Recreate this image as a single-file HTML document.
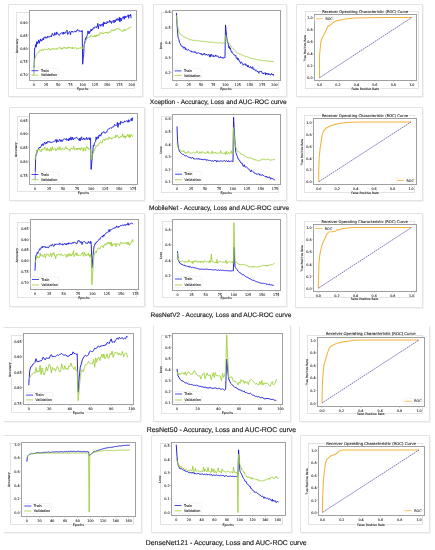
<!DOCTYPE html>
<html><head><meta charset="utf-8"><title>Model curves</title>
<style>html,body{margin:0;padding:0;background:#fff;} svg{display:block;}</style></head>
<body><svg width="435" height="550" viewBox="0 0 435 550" text-rendering="geometricPrecision" font-family="DejaVu Sans, Liberation Sans, sans-serif" fill="#383838"><g stroke="#383838" stroke-width="0.14">
<rect width="435" height="550" fill="#fff" stroke="none"/>
<path d="M8.5 96.5V4.5" fill="none" stroke="#e3e3e3" stroke-width="1"/>
<path d="M8.5 4.5H142.5" fill="none" stroke="#e3e3e3" stroke-width="1"/>
<path d="M142.5 4.5V96.5H8.5" fill="none" stroke="#e3e3e3" stroke-width="1"/>
<path d="M143.5 5.5V97.5H9.5" fill="none" stroke="#f3f3f3" stroke-width="1"/>
<rect x="16.5" y="12.5" width="118.0" height="76.0" fill="none" stroke="#dcdcdc" stroke-width="0.8"/>
<clipPath id="c1"><rect x="29" y="10.5" width="107.5" height="69.8"/></clipPath>
<rect x="29" y="10.5" width="107.5" height="69.8" fill="#fff" stroke="none"/>
<g clip-path="url(#c1)" fill="none" stroke-linejoin="round">
<polyline points="33.75,74.80 34.24,62.66 34.73,47.83 35.22,47.56 35.71,44.40 36.20,47.18 36.69,41.57 37.17,43.97 37.66,42.19 38.15,42.34 38.64,39.83 39.13,43.41 39.62,41.13 40.11,40.94 40.60,38.92 41.09,41.26 41.58,39.92 42.07,40.48 42.56,39.15 43.05,38.27 43.53,39.99 44.02,37.15 44.51,37.20 45.00,37.43 45.49,36.73 45.98,38.34 46.47,37.46 46.96,38.17 47.45,37.16 47.94,36.00 48.43,37.26 48.92,36.76 49.41,36.94 49.90,36.96 50.38,36.60 50.87,35.68 51.36,36.80 51.85,35.07 52.34,33.26 52.83,34.16 53.32,35.09 53.81,35.74 54.30,35.42 54.79,32.54 55.28,34.41 55.77,35.17 56.26,34.17 56.74,31.91 57.23,34.17 57.72,33.55 58.21,33.88 58.70,34.60 59.19,35.48 59.68,34.52 60.17,34.32 60.66,33.35 61.15,32.96 61.64,32.75 62.13,33.40 62.62,32.61 63.11,34.41 63.59,31.98 64.08,32.74 64.57,33.58 65.06,32.57 65.55,33.13 66.04,31.62 66.53,31.07 67.02,30.20 67.51,34.30 68.00,34.30 68.49,33.15 68.98,32.32 69.47,31.42 69.95,32.01 70.44,34.67 70.93,32.62 71.42,31.24 71.91,31.88 72.40,31.20 72.89,32.28 73.38,32.20 73.87,31.63 74.36,31.25 74.85,31.38 75.34,31.36 75.83,32.16 76.31,30.82 76.80,31.00 77.29,29.71 77.78,29.51 78.27,30.57 78.76,31.11 79.25,31.52 79.74,30.39 80.23,30.89 80.72,31.49 81.21,31.14 81.70,31.91 82.19,30.38 82.67,64.24 83.16,58.14 83.65,54.87 84.14,44.79 84.63,43.10 85.12,40.70 85.61,37.84 86.10,38.58 86.59,37.07 87.08,35.61 87.57,33.42 88.06,30.91 88.55,33.05 89.04,33.91 89.52,31.50 90.01,32.33 90.50,31.18 90.99,29.31 91.48,30.99 91.97,29.56 92.46,30.05 92.95,28.66 93.44,27.63 93.93,28.53 94.42,27.22 94.91,26.55 95.40,26.97 95.88,27.56 96.37,27.78 96.86,26.25 97.35,26.33 97.84,23.37 98.33,28.75 98.82,25.73 99.31,25.38 99.80,24.18 100.29,24.97 100.78,26.32 101.27,25.13 101.76,24.29 102.25,25.08 102.73,23.60 103.22,26.46 103.71,22.07 104.20,22.16 104.69,24.05 105.18,22.74 105.67,23.18 106.16,23.99 106.65,22.72 107.14,21.45 107.63,22.84 108.12,22.70 108.61,22.21 109.09,21.48 109.58,20.36 110.07,22.44 110.56,20.97 111.05,21.17 111.54,23.45 112.03,21.64 112.52,21.16 113.01,20.91 113.50,20.35 113.99,22.96 114.48,20.40 114.97,21.10 115.45,21.85 115.94,19.42 116.43,19.04 116.92,20.52 117.41,18.64 117.90,19.92 118.39,19.26 118.88,20.48 119.37,17.22 119.86,22.01 120.35,18.89 120.84,17.84 121.33,20.89 121.81,18.61 122.30,18.35 122.79,17.18 123.28,16.55 123.77,18.35 124.26,19.36 124.75,16.03 125.24,16.07 125.73,17.85 126.22,16.74 126.71,16.53 127.20,16.14 127.69,16.39 128.18,14.82 128.66,18.30 129.15,14.90 129.64,15.49 130.13,16.02 130.62,14.23 131.11,18.15" stroke="#1c1cdc" stroke-width="0.95"/>
<polyline points="33.75,75.76 34.24,67.41 34.73,58.54 35.22,58.16 35.71,55.95 36.20,54.89 36.69,54.09 37.17,53.70 37.66,52.74 38.15,52.46 38.64,52.55 39.13,51.07 39.62,50.72 40.11,49.95 40.60,50.46 41.09,50.35 41.58,50.08 42.07,50.56 42.56,49.21 43.05,50.25 43.53,50.25 44.02,49.71 44.51,48.79 45.00,49.40 45.49,50.01 45.98,49.81 46.47,49.08 46.96,49.45 47.45,49.72 47.94,49.40 48.43,48.84 48.92,48.14 49.41,49.75 49.90,49.37 50.38,49.40 50.87,50.18 51.36,49.34 51.85,49.34 52.34,48.17 52.83,48.76 53.32,49.47 53.81,48.23 54.30,48.69 54.79,49.39 55.28,48.78 55.77,48.75 56.26,48.88 56.74,48.39 57.23,49.55 57.72,48.51 58.21,47.83 58.70,47.89 59.19,47.74 59.68,47.71 60.17,47.50 60.66,48.83 61.15,47.79 61.64,49.17 62.13,48.50 62.62,49.16 63.11,47.61 63.59,47.44 64.08,48.21 64.57,47.17 65.06,48.42 65.55,47.97 66.04,47.95 66.53,48.56 67.02,47.77 67.51,46.99 68.00,48.52 68.49,47.53 68.98,48.07 69.47,47.08 69.95,47.74 70.44,47.64 70.93,47.66 71.42,47.86 71.91,48.71 72.40,47.27 72.89,48.70 73.38,47.87 73.87,47.67 74.36,48.42 74.85,47.92 75.34,47.39 75.83,48.00 76.31,48.45 76.80,49.50 77.29,48.49 77.78,48.30 78.27,48.26 78.76,48.49 79.25,47.80 79.74,48.29 80.23,48.05 80.72,47.64 81.21,48.43 81.70,48.15 82.19,46.88 82.67,49.00 83.16,47.97 83.65,47.27 84.14,44.75 84.63,43.83 85.12,43.46 85.61,41.90 86.10,40.15 86.59,39.27 87.08,39.08 87.57,37.75 88.06,37.83 88.55,37.22 89.04,36.95 89.52,37.47 90.01,36.29 90.50,36.51 90.99,34.96 91.48,35.53 91.97,36.01 92.46,36.69 92.95,36.20 93.44,36.24 93.93,37.11 94.42,35.26 94.91,36.39 95.40,35.38 95.88,36.69 96.37,34.85 96.86,36.27 97.35,35.59 97.84,34.63 98.33,34.63 98.82,35.72 99.31,34.73 99.80,33.34 100.29,32.35 100.78,32.74 101.27,33.38 101.76,32.73 102.25,33.80 102.73,32.82 103.22,33.84 103.71,33.04 104.20,33.07 104.69,32.51 105.18,33.10 105.67,32.20 106.16,32.96 106.65,32.34 107.14,32.33 107.63,33.79 108.12,32.52 108.61,32.32 109.09,32.59 109.58,31.84 110.07,32.57 110.56,31.23 111.05,31.06 111.54,30.98 112.03,29.54 112.52,30.55 113.01,30.51 113.50,30.77 113.99,29.99 114.48,30.57 114.97,29.17 115.45,30.14 115.94,29.55 116.43,28.38 116.92,28.72 117.41,29.11 117.90,28.34 118.39,29.02 118.88,28.41 119.37,29.21 119.86,30.10 120.35,29.70 120.84,29.78 121.33,30.87 121.81,31.20 122.30,30.78 122.79,31.74 123.28,30.64 123.77,30.81 124.26,28.96 124.75,30.34 125.24,30.80 125.73,29.33 126.22,29.83 126.71,29.61 127.20,29.21 127.69,28.89 128.18,28.90 128.66,27.83 129.15,27.76 129.64,28.02 130.13,27.52 130.62,27.65 131.11,26.63" stroke="#9acd32" stroke-width="0.85"/>
</g>
<rect x="29.5" y="10.5" width="107.0" height="70.0" fill="none" stroke="#a0a0a0" stroke-width="1"/>
<line x1="33.75" y1="80.5" x2="33.75" y2="81.9" stroke="#a0a0a0" stroke-width="0.5"/>
<text x="33.75" y="85.80" font-size="3.3" text-anchor="middle">0</text>
<line x1="45.98" y1="80.5" x2="45.98" y2="81.9" stroke="#a0a0a0" stroke-width="0.5"/>
<text x="45.98" y="85.80" font-size="3.3" text-anchor="middle">25</text>
<line x1="58.21" y1="80.5" x2="58.21" y2="81.9" stroke="#a0a0a0" stroke-width="0.5"/>
<text x="58.21" y="85.80" font-size="3.3" text-anchor="middle">50</text>
<line x1="70.44" y1="80.5" x2="70.44" y2="81.9" stroke="#a0a0a0" stroke-width="0.5"/>
<text x="70.44" y="85.80" font-size="3.3" text-anchor="middle">75</text>
<line x1="82.67" y1="80.5" x2="82.67" y2="81.9" stroke="#a0a0a0" stroke-width="0.5"/>
<text x="82.67" y="85.80" font-size="3.3" text-anchor="middle">100</text>
<line x1="94.91" y1="80.5" x2="94.91" y2="81.9" stroke="#a0a0a0" stroke-width="0.5"/>
<text x="94.91" y="85.80" font-size="3.3" text-anchor="middle">125</text>
<line x1="107.14" y1="80.5" x2="107.14" y2="81.9" stroke="#a0a0a0" stroke-width="0.5"/>
<text x="107.14" y="85.80" font-size="3.3" text-anchor="middle">150</text>
<line x1="119.37" y1="80.5" x2="119.37" y2="81.9" stroke="#a0a0a0" stroke-width="0.5"/>
<text x="119.37" y="85.80" font-size="3.3" text-anchor="middle">175</text>
<line x1="131.60" y1="80.5" x2="131.60" y2="81.9" stroke="#a0a0a0" stroke-width="0.5"/>
<text x="131.60" y="85.80" font-size="3.3" text-anchor="middle">200</text>
<line x1="28.1" y1="74.10" x2="29.5" y2="74.10" stroke="#a0a0a0" stroke-width="0.5"/>
<text x="27.50" y="75.75" font-size="3.3" text-anchor="end">0.70</text>
<line x1="28.1" y1="61.17" x2="29.5" y2="61.17" stroke="#a0a0a0" stroke-width="0.5"/>
<text x="27.50" y="62.82" font-size="3.3" text-anchor="end">0.75</text>
<line x1="28.1" y1="48.25" x2="29.5" y2="48.25" stroke="#a0a0a0" stroke-width="0.5"/>
<text x="27.50" y="49.90" font-size="3.3" text-anchor="end">0.80</text>
<line x1="28.1" y1="35.33" x2="29.5" y2="35.33" stroke="#a0a0a0" stroke-width="0.5"/>
<text x="27.50" y="36.98" font-size="3.3" text-anchor="end">0.85</text>
<line x1="28.1" y1="22.40" x2="29.5" y2="22.40" stroke="#a0a0a0" stroke-width="0.5"/>
<text x="27.50" y="24.05" font-size="3.3" text-anchor="end">0.90</text>
<rect x="76.62" y="87.00" width="12.27" height="3.20" fill="#fff" stroke="none"/>
<text x="82.75" y="89.50" font-size="3.2" text-anchor="middle">Epochs</text>
<rect x="15.50" y="38.30" width="3.20" height="15.41" fill="#fff" stroke="none"/>
<text x="18.00" y="46.00" font-size="3.2" text-anchor="middle" transform="rotate(-90 18.00 46.00)">Accuracy</text>
<rect x="30.20" y="68.10" width="28.00" height="9.70" rx="0.6" fill="#fff" fill-opacity="0.45" stroke="#e9e9e9" stroke-width="0.5"/>
<line x1="31.4" y1="70.7" x2="38.4" y2="70.7" stroke="#1c1cdc" stroke-width="0.8"/>
<text x="40.9" y="71.89" font-size="3.3">Train</text>
<line x1="31.4" y1="75.2" x2="38.4" y2="75.2" stroke="#9acd32" stroke-width="0.8"/>
<text x="40.9" y="76.39" font-size="3.3">Validation</text>
<path d="M153.5 96.5V4.5" fill="none" stroke="#e3e3e3" stroke-width="1"/>
<path d="M153.5 4.5H286.5" fill="none" stroke="#e3e3e3" stroke-width="1"/>
<path d="M286.5 4.5V96.5H153.5" fill="none" stroke="#e3e3e3" stroke-width="1"/>
<path d="M287.5 5.5V97.5H154.5" fill="none" stroke="#f3f3f3" stroke-width="1"/>
<rect x="161.5" y="12.5" width="117.0" height="76.0" fill="none" stroke="#dcdcdc" stroke-width="0.8"/>
<clipPath id="c2"><rect x="172" y="10.5" width="108" height="69.5"/></clipPath>
<rect x="172" y="10.5" width="108" height="69.5" fill="#fff" stroke="none"/>
<g clip-path="url(#c2)" fill="none" stroke-linejoin="round">
<polyline points="176.50,12.97 176.99,24.51 177.48,30.33 177.97,36.65 178.46,38.47 178.95,39.52 179.44,42.33 179.93,43.21 180.42,43.78 180.91,45.24 181.40,46.24 181.89,45.98 182.38,46.50 182.87,46.26 183.36,48.22 183.85,47.97 184.34,47.12 184.83,47.00 185.32,49.55 185.81,48.32 186.30,49.67 186.79,49.83 187.28,50.09 187.77,50.02 188.26,49.30 188.75,49.73 189.24,50.42 189.73,50.96 190.22,50.95 190.71,51.27 191.20,50.88 191.69,52.00 192.18,51.73 192.67,51.95 193.16,52.07 193.65,52.01 194.14,52.20 194.63,51.58 195.12,52.70 195.61,51.73 196.10,53.16 196.59,53.43 197.08,53.19 197.57,53.15 198.06,53.30 198.55,52.70 199.04,52.89 199.53,53.43 200.02,54.09 200.51,54.02 201.00,53.08 201.49,53.99 201.98,55.13 202.47,54.80 202.96,54.81 203.45,53.73 203.94,54.67 204.43,53.09 204.92,54.24 205.41,54.65 205.90,55.08 206.39,54.16 206.88,55.04 207.37,55.48 207.86,54.58 208.35,55.00 208.84,54.25 209.33,55.16 209.82,57.11 210.31,54.68 210.80,56.61 211.29,54.38 211.78,54.29 212.27,55.93 212.76,56.54 213.25,56.80 213.74,55.36 214.23,56.20 214.72,56.57 215.21,56.44 215.70,54.95 216.19,56.24 216.68,56.07 217.17,56.14 217.66,56.07 218.15,56.14 218.64,57.44 219.13,57.20 219.62,57.66 220.11,57.72 220.60,56.55 221.09,57.77 221.58,57.57 222.07,58.08 222.56,58.11 223.05,57.24 223.54,58.12 224.03,58.18 224.52,57.55 225.01,57.58 225.50,24.90 225.99,29.50 226.48,35.28 226.97,38.67 227.46,42.42 227.95,42.38 228.44,44.76 228.93,47.83 229.42,46.50 229.91,49.13 230.40,47.87 230.89,50.48 231.38,52.25 231.87,51.59 232.36,52.99 232.85,53.51 233.34,54.09 233.83,54.80 234.32,54.74 234.81,55.14 235.30,56.03 235.79,55.46 236.28,58.40 236.77,58.26 237.26,57.82 237.75,59.88 238.24,58.43 238.73,59.72 239.22,61.03 239.71,61.13 240.20,62.62 240.69,63.54 241.18,62.02 241.67,62.20 242.16,63.07 242.65,63.42 243.14,65.27 243.63,64.53 244.12,64.50 244.61,64.21 245.10,63.59 245.59,65.28 246.08,65.72 246.57,64.65 247.06,65.72 247.55,66.90 248.04,65.18 248.53,67.01 249.02,67.03 249.51,67.63 250.00,66.82 250.49,66.52 250.98,67.91 251.47,67.62 251.96,68.57 252.45,66.73 252.94,67.66 253.43,69.54 253.92,68.98 254.41,68.96 254.90,69.64 255.39,70.83 255.88,70.67 256.37,70.29 256.86,70.80 257.35,71.92 257.84,71.07 258.33,72.32 258.82,73.31 259.31,71.70 259.80,71.25 260.29,71.78 260.78,71.14 261.27,71.07 261.76,72.27 262.25,73.16 262.74,72.85 263.23,74.06 263.72,73.09 264.21,73.23 264.70,73.14 265.19,72.54 265.68,75.10 266.17,73.02 266.66,74.10 267.15,73.19 267.64,73.77 268.13,74.79 268.62,73.45 269.11,74.78 269.60,73.93 270.09,74.91 270.58,74.96 271.07,74.64 271.56,73.42 272.05,74.47 272.54,75.15 273.03,74.00 273.52,75.38 274.01,75.76" stroke="#1c1cdc" stroke-width="0.95"/>
<polyline points="176.50,15.36 176.99,21.11 177.48,25.66 177.97,27.58 178.46,29.81 178.95,31.65 179.44,32.44 179.93,33.59 180.42,33.84 180.91,34.72 181.40,35.29 181.89,35.54 182.38,35.74 182.87,36.23 183.36,36.56 183.85,37.13 184.34,37.07 184.83,37.45 185.32,37.60 185.81,38.14 186.30,37.70 186.79,38.18 187.28,38.48 187.77,38.18 188.26,38.78 188.75,39.24 189.24,39.22 189.73,39.78 190.22,39.31 190.71,39.78 191.20,40.01 191.69,39.72 192.18,40.33 192.67,39.97 193.16,40.55 193.65,40.34 194.14,40.52 194.63,40.07 195.12,40.08 195.61,40.56 196.10,40.40 196.59,40.67 197.08,40.60 197.57,40.92 198.06,41.17 198.55,41.25 199.04,40.88 199.53,40.57 200.02,41.01 200.51,41.23 201.00,40.81 201.49,41.20 201.98,41.28 202.47,41.31 202.96,41.44 203.45,41.54 203.94,41.81 204.43,41.48 204.92,41.64 205.41,41.44 205.90,41.79 206.39,42.14 206.88,41.83 207.37,41.52 207.86,41.98 208.35,42.13 208.84,42.23 209.33,42.25 209.82,42.15 210.31,42.37 210.80,41.89 211.29,42.29 211.78,42.26 212.27,42.04 212.76,42.08 213.25,42.46 213.74,42.40 214.23,42.37 214.72,42.60 215.21,42.96 215.70,42.52 216.19,42.52 216.68,42.66 217.17,42.96 217.66,42.85 218.15,42.97 218.64,42.94 219.13,42.66 219.62,42.65 220.11,42.86 220.60,42.92 221.09,42.93 221.58,43.10 222.07,43.14 222.56,43.30 223.05,43.21 223.54,42.79 224.03,43.10 224.52,43.37 225.01,43.43 225.50,35.43 225.99,37.03 226.48,39.12 226.97,40.77 227.46,41.58 227.95,41.70 228.44,42.47 228.93,43.11 229.42,43.97 229.91,44.64 230.40,45.59 230.89,45.91 231.38,46.97 231.87,47.42 232.36,47.88 232.85,48.44 233.34,48.74 233.83,49.37 234.32,49.86 234.81,50.37 235.30,50.69 235.79,51.43 236.28,51.88 236.77,52.31 237.26,53.06 237.75,53.42 238.24,53.49 238.73,53.60 239.22,53.90 239.71,54.19 240.20,54.12 240.69,54.51 241.18,54.67 241.67,54.84 242.16,55.05 242.65,55.30 243.14,55.36 243.63,55.75 244.12,55.85 244.61,56.02 245.10,56.26 245.59,56.31 246.08,56.48 246.57,56.66 247.06,56.86 247.55,56.95 248.04,56.99 248.53,57.25 249.02,57.93 249.51,57.58 250.00,58.12 250.49,58.29 250.98,58.17 251.47,58.47 251.96,58.23 252.45,58.45 252.94,58.75 253.43,58.97 253.92,58.85 254.41,58.86 254.90,59.11 255.39,59.01 255.88,59.29 256.37,59.38 256.86,59.63 257.35,59.63 257.84,59.78 258.33,60.07 258.82,59.62 259.31,60.02 259.80,60.07 260.29,60.00 260.78,60.23 261.27,60.30 261.76,60.36 262.25,60.63 262.74,60.39 263.23,60.61 263.72,60.77 264.21,60.62 264.70,60.73 265.19,60.94 265.68,60.84 266.17,60.90 266.66,60.90 267.15,60.94 267.64,60.94 268.13,61.21 268.62,61.11 269.11,61.26 269.60,61.13 270.09,61.40 270.58,61.54 271.07,61.37 271.56,61.05 272.05,61.26 272.54,61.43 273.03,61.18 273.52,61.55 274.01,61.59" stroke="#9acd32" stroke-width="0.85"/>
</g>
<rect x="172.5" y="10.5" width="108.0" height="70.0" fill="none" stroke="#a0a0a0" stroke-width="1"/>
<line x1="176.50" y1="80.5" x2="176.50" y2="81.9" stroke="#a0a0a0" stroke-width="0.5"/>
<text x="176.50" y="85.80" font-size="3.3" text-anchor="middle">0</text>
<line x1="188.75" y1="80.5" x2="188.75" y2="81.9" stroke="#a0a0a0" stroke-width="0.5"/>
<text x="188.75" y="85.80" font-size="3.3" text-anchor="middle">25</text>
<line x1="201.00" y1="80.5" x2="201.00" y2="81.9" stroke="#a0a0a0" stroke-width="0.5"/>
<text x="201.00" y="85.80" font-size="3.3" text-anchor="middle">50</text>
<line x1="213.25" y1="80.5" x2="213.25" y2="81.9" stroke="#a0a0a0" stroke-width="0.5"/>
<text x="213.25" y="85.80" font-size="3.3" text-anchor="middle">75</text>
<line x1="225.50" y1="80.5" x2="225.50" y2="81.9" stroke="#a0a0a0" stroke-width="0.5"/>
<text x="225.50" y="85.80" font-size="3.3" text-anchor="middle">100</text>
<line x1="237.75" y1="80.5" x2="237.75" y2="81.9" stroke="#a0a0a0" stroke-width="0.5"/>
<text x="237.75" y="85.80" font-size="3.3" text-anchor="middle">125</text>
<line x1="250.00" y1="80.5" x2="250.00" y2="81.9" stroke="#a0a0a0" stroke-width="0.5"/>
<text x="250.00" y="85.80" font-size="3.3" text-anchor="middle">150</text>
<line x1="262.25" y1="80.5" x2="262.25" y2="81.9" stroke="#a0a0a0" stroke-width="0.5"/>
<text x="262.25" y="85.80" font-size="3.3" text-anchor="middle">175</text>
<line x1="274.50" y1="80.5" x2="274.50" y2="81.9" stroke="#a0a0a0" stroke-width="0.5"/>
<text x="274.50" y="85.80" font-size="3.3" text-anchor="middle">200</text>
<line x1="171.1" y1="72.50" x2="172.5" y2="72.50" stroke="#a0a0a0" stroke-width="0.5"/>
<text x="170.50" y="74.15" font-size="3.3" text-anchor="end">0.2</text>
<line x1="171.1" y1="57.31" x2="172.5" y2="57.31" stroke="#a0a0a0" stroke-width="0.5"/>
<text x="170.50" y="58.96" font-size="3.3" text-anchor="end">0.3</text>
<line x1="171.1" y1="42.12" x2="172.5" y2="42.12" stroke="#a0a0a0" stroke-width="0.5"/>
<text x="170.50" y="43.77" font-size="3.3" text-anchor="end">0.4</text>
<line x1="171.1" y1="26.94" x2="172.5" y2="26.94" stroke="#a0a0a0" stroke-width="0.5"/>
<text x="170.50" y="28.59" font-size="3.3" text-anchor="end">0.5</text>
<line x1="171.1" y1="11.75" x2="172.5" y2="11.75" stroke="#a0a0a0" stroke-width="0.5"/>
<text x="170.50" y="13.40" font-size="3.3" text-anchor="end">0.6</text>
<rect x="219.87" y="87.00" width="12.27" height="3.20" fill="#fff" stroke="none"/>
<text x="226.00" y="89.50" font-size="3.2" text-anchor="middle">Epochs</text>
<rect x="160.00" y="41.91" width="3.20" height="7.88" fill="#fff" stroke="none"/>
<text x="162.50" y="45.85" font-size="3.2" text-anchor="middle" transform="rotate(-90 162.50 45.85)">Loss</text>
<rect x="173.30" y="68.30" width="28.00" height="9.70" rx="0.6" fill="#fff" fill-opacity="0.45" stroke="#e9e9e9" stroke-width="0.5"/>
<line x1="174.5" y1="70.9" x2="181.5" y2="70.9" stroke="#1c1cdc" stroke-width="0.8"/>
<text x="184.0" y="72.09" font-size="3.3">Train</text>
<line x1="174.5" y1="75.4" x2="181.5" y2="75.4" stroke="#9acd32" stroke-width="0.8"/>
<text x="184.0" y="76.59" font-size="3.3">Validation</text>
<path d="M296.5 96.5V4.5" fill="none" stroke="#e3e3e3" stroke-width="1"/>
<path d="M296.5 4.5H422.5" fill="none" stroke="#e3e3e3" stroke-width="1"/>
<path d="M422.5 4.5V96.5H296.5" fill="none" stroke="#e3e3e3" stroke-width="1"/>
<path d="M423.5 5.5V97.5H297.5" fill="none" stroke="#f3f3f3" stroke-width="1"/>
<rect x="305.5" y="11.5" width="113.0" height="77.0" fill="none" stroke="#dcdcdc" stroke-width="0.8"/>
<clipPath id="c3"><rect x="314.5" y="14.5" width="101.5" height="66.25"/></clipPath>
<rect x="314.5" y="14.5" width="101.5" height="66.25" fill="#fff" stroke="none"/>
<g clip-path="url(#c3)" fill="none" stroke-linejoin="round">
<polyline points="319.50,77.75 319.50,56.06 320.61,44.01 321.35,39.79 323.56,35.58 325.96,30.75 327.80,26.54 330.20,25.33 333.25,22.32 335.64,21.12 340.44,19.91 345.33,19.01 349.94,18.40 354.00,18.10 365.62,17.68 384.07,17.50 411.75,17.50" stroke="#f3b23a" stroke-width="1.05"/>
<polyline points="319.50,77.75 411.75,17.50" stroke="#4040a6" stroke-width="0.7" stroke-dasharray="1.7,0.66"/>
</g>
<rect x="314.5" y="14.5" width="102.0" height="66.0" fill="none" stroke="#a0a0a0" stroke-width="1"/>
<line x1="319.50" y1="80.5" x2="319.50" y2="81.9" stroke="#a0a0a0" stroke-width="0.5"/>
<text x="319.50" y="85.80" font-size="3.3" text-anchor="middle">0.0</text>
<line x1="337.95" y1="80.5" x2="337.95" y2="81.9" stroke="#a0a0a0" stroke-width="0.5"/>
<text x="337.95" y="85.80" font-size="3.3" text-anchor="middle">0.2</text>
<line x1="356.40" y1="80.5" x2="356.40" y2="81.9" stroke="#a0a0a0" stroke-width="0.5"/>
<text x="356.40" y="85.80" font-size="3.3" text-anchor="middle">0.4</text>
<line x1="374.85" y1="80.5" x2="374.85" y2="81.9" stroke="#a0a0a0" stroke-width="0.5"/>
<text x="374.85" y="85.80" font-size="3.3" text-anchor="middle">0.6</text>
<line x1="393.30" y1="80.5" x2="393.30" y2="81.9" stroke="#a0a0a0" stroke-width="0.5"/>
<text x="393.30" y="85.80" font-size="3.3" text-anchor="middle">0.8</text>
<line x1="411.75" y1="80.5" x2="411.75" y2="81.9" stroke="#a0a0a0" stroke-width="0.5"/>
<text x="411.75" y="85.80" font-size="3.3" text-anchor="middle">1.0</text>
<line x1="313.1" y1="77.75" x2="314.5" y2="77.75" stroke="#a0a0a0" stroke-width="0.5"/>
<text x="312.50" y="79.40" font-size="3.3" text-anchor="end">0.0</text>
<line x1="313.1" y1="65.70" x2="314.5" y2="65.70" stroke="#a0a0a0" stroke-width="0.5"/>
<text x="312.50" y="67.35" font-size="3.3" text-anchor="end">0.2</text>
<line x1="313.1" y1="53.65" x2="314.5" y2="53.65" stroke="#a0a0a0" stroke-width="0.5"/>
<text x="312.50" y="55.30" font-size="3.3" text-anchor="end">0.4</text>
<line x1="313.1" y1="41.60" x2="314.5" y2="41.60" stroke="#a0a0a0" stroke-width="0.5"/>
<text x="312.50" y="43.25" font-size="3.3" text-anchor="end">0.6</text>
<line x1="313.1" y1="29.55" x2="314.5" y2="29.55" stroke="#a0a0a0" stroke-width="0.5"/>
<text x="312.50" y="31.20" font-size="3.3" text-anchor="end">0.8</text>
<line x1="313.1" y1="17.50" x2="314.5" y2="17.50" stroke="#a0a0a0" stroke-width="0.5"/>
<text x="312.50" y="19.15" font-size="3.3" text-anchor="end">1.0</text>
<rect x="351.05" y="87.28" width="28.40" height="2.97" fill="#fff" stroke="none"/>
<text x="365.25" y="89.60" font-size="2.97" text-anchor="middle">False Positive Rate</text>
<rect x="303.28" y="34.60" width="2.97" height="27.26" fill="#fff" stroke="none"/>
<text x="305.60" y="48.23" font-size="2.97" text-anchor="middle" transform="rotate(-90 305.60 48.23)">True Positive Rate</text>
<rect x="321.28" y="9.40" width="87.94" height="3.0" fill="#fff" stroke="none"/>
<text x="365.25" y="12.60" font-size="3.68" text-anchor="middle">Receiver Operating Characteristic (ROC) Curve</text>
<rect x="314.70" y="16.20" width="18.63" height="5.20" rx="0.6" fill="#fff" fill-opacity="0.45" stroke="#e9e9e9" stroke-width="0.5"/>
<line x1="315.9" y1="18.8" x2="322.9" y2="18.8" stroke="#f3b23a" stroke-width="0.8"/>
<text x="325.4" y="19.99" font-size="3.3">ROC</text>
<path d="M9.5 200.5V107.5" fill="none" stroke="#e3e3e3" stroke-width="1"/>
<path d="M9.5 107.5H144.5" fill="none" stroke="#e3e3e3" stroke-width="1"/>
<path d="M144.5 107.5V200.5H9.5" fill="none" stroke="#e3e3e3" stroke-width="1"/>
<path d="M145.5 108.5V201.5H10.5" fill="none" stroke="#f3f3f3" stroke-width="1"/>
<rect x="17.5" y="116.5" width="118.0" height="75.0" fill="none" stroke="#dcdcdc" stroke-width="0.8"/>
<clipPath id="c4"><rect x="29.5" y="113.75" width="108.0" height="70.75"/></clipPath>
<rect x="29.5" y="113.75" width="108.0" height="70.75" fill="#fff" stroke="none"/>
<g clip-path="url(#c4)" fill="none" stroke-linejoin="round">
<polyline points="35.10,180.15 35.66,156.81 36.22,153.79 36.78,153.57 37.34,150.08 37.90,149.67 38.46,149.24 39.02,147.73 39.58,147.00 40.14,147.93 40.70,147.12 41.26,146.08 41.82,144.24 42.38,143.85 42.94,145.62 43.50,145.25 44.06,143.15 44.62,142.11 45.18,143.61 45.74,144.11 46.30,142.09 46.86,143.38 47.42,142.13 47.98,141.11 48.54,141.89 49.10,142.35 49.66,141.55 50.22,142.86 50.78,142.25 51.34,142.54 51.90,142.04 52.46,142.21 53.02,141.78 53.58,141.86 54.14,141.25 54.70,141.16 55.26,140.81 55.82,139.57 56.38,142.54 56.94,139.49 57.50,140.98 58.06,141.92 58.62,140.72 59.18,140.35 59.74,139.24 60.30,141.36 60.86,139.93 61.42,139.95 61.98,141.78 62.54,141.21 63.10,139.30 63.66,139.15 64.22,138.70 64.78,139.23 65.34,139.32 65.90,139.56 66.46,138.38 67.02,140.46 67.58,139.68 68.14,139.06 68.70,141.03 69.26,137.96 69.82,140.07 70.38,139.25 70.94,136.86 71.50,139.89 72.06,139.51 72.62,137.26 73.18,139.94 73.74,139.19 74.30,138.18 74.86,138.24 75.42,138.10 75.98,138.33 76.54,137.32 77.10,137.66 77.66,138.10 78.22,139.43 78.78,139.46 79.34,140.70 79.90,138.00 80.46,140.61 81.02,137.80 81.58,136.79 82.14,139.82 82.70,139.43 83.26,139.21 83.82,137.85 84.38,139.61 84.94,138.85 85.50,139.26 86.06,138.98 86.62,137.37 87.18,139.72 87.74,138.64 88.30,138.43 88.86,137.82 89.42,140.03 89.98,137.56 90.54,138.26 91.10,169.47 91.66,164.04 92.22,156.61 92.78,151.93 93.34,145.16 93.90,146.10 94.46,143.38 95.02,142.25 95.58,141.66 96.14,136.89 96.70,139.45 97.26,137.87 97.82,136.72 98.38,138.38 98.94,135.38 99.50,136.23 100.06,134.59 100.62,135.89 101.18,135.44 101.74,132.75 102.30,132.87 102.86,132.72 103.42,131.85 103.98,131.57 104.54,132.79 105.10,133.42 105.66,132.52 106.22,132.24 106.78,132.26 107.34,130.37 107.90,129.87 108.46,129.01 109.02,128.38 109.58,128.67 110.14,128.25 110.70,127.65 111.26,128.39 111.82,127.83 112.38,126.82 112.94,127.22 113.50,126.83 114.06,126.09 114.62,124.42 115.18,125.11 115.74,125.50 116.30,125.52 116.86,124.85 117.42,122.38 117.98,127.32 118.54,123.58 119.10,123.65 119.66,122.83 120.22,124.54 120.78,121.20 121.34,122.05 121.90,122.85 122.46,122.48 123.02,123.15 123.58,122.24 124.14,122.26 124.70,121.04 125.26,121.43 125.82,121.69 126.38,120.79 126.94,120.73 127.50,120.88 128.06,122.39 128.62,119.72 129.18,121.61 129.74,121.25 130.30,120.17 130.86,119.37 131.42,118.29 131.98,121.05 132.54,117.81 133.10,117.44" stroke="#1c1cdc" stroke-width="0.95"/>
<polyline points="35.10,160.12 35.66,155.48 36.22,153.62 36.78,150.96 37.34,149.65 37.90,150.44 38.46,149.24 39.02,149.66 39.58,148.72 40.14,151.65 40.70,151.15 41.26,151.55 41.82,149.12 42.38,149.96 42.94,148.50 43.50,149.20 44.06,149.41 44.62,146.88 45.18,148.75 45.74,149.50 46.30,150.65 46.86,147.94 47.42,148.20 47.98,150.68 48.54,149.49 49.10,148.98 49.66,151.26 50.22,149.56 50.78,147.46 51.34,151.14 51.90,148.51 52.46,146.78 53.02,149.87 53.58,149.65 54.14,148.82 54.70,148.44 55.26,148.58 55.82,150.93 56.38,150.00 56.94,148.92 57.50,149.43 58.06,147.63 58.62,149.42 59.18,149.47 59.74,146.73 60.30,149.10 60.86,150.20 61.42,148.99 61.98,149.26 62.54,148.09 63.10,148.40 63.66,149.36 64.22,149.42 64.78,149.59 65.34,147.26 65.90,146.44 66.46,148.98 67.02,148.21 67.58,148.45 68.14,149.52 68.70,149.52 69.26,149.46 69.82,151.23 70.38,149.79 70.94,148.29 71.50,147.70 72.06,149.09 72.62,149.29 73.18,148.03 73.74,146.28 74.30,149.94 74.86,149.75 75.42,149.32 75.98,148.10 76.54,149.82 77.10,148.19 77.66,149.64 78.22,148.05 78.78,149.12 79.34,149.26 79.90,147.72 80.46,150.17 81.02,149.65 81.58,147.80 82.14,147.75 82.70,148.43 83.26,151.37 83.82,147.78 84.38,148.23 84.94,149.07 85.50,151.04 86.06,147.61 86.62,146.47 87.18,148.00 87.74,146.97 88.30,149.41 88.86,148.37 89.42,149.39 89.98,149.96 90.54,149.00 91.10,159.68 91.66,158.43 92.22,155.67 92.78,153.25 93.34,153.14 93.90,150.17 94.46,150.83 95.02,148.28 95.58,148.10 96.14,145.61 96.70,146.21 97.26,145.51 97.82,146.05 98.38,143.90 98.94,144.18 99.50,142.91 100.06,142.22 100.62,141.75 101.18,142.22 101.74,143.30 102.30,142.11 102.86,139.76 103.42,139.38 103.98,138.89 104.54,140.44 105.10,140.63 105.66,138.60 106.22,138.42 106.78,139.02 107.34,138.83 107.90,139.90 108.46,138.59 109.02,136.90 109.58,138.93 110.14,138.38 110.70,137.95 111.26,138.00 111.82,139.30 112.38,137.93 112.94,137.87 113.50,137.51 114.06,137.47 114.62,136.96 115.18,137.80 115.74,135.15 116.30,137.03 116.86,135.27 117.42,135.22 117.98,136.45 118.54,137.66 119.10,138.56 119.66,137.89 120.22,136.67 120.78,136.18 121.34,137.04 121.90,136.74 122.46,133.64 123.02,135.93 123.58,137.33 124.14,135.57 124.70,137.05 125.26,138.42 125.82,135.93 126.38,136.80 126.94,135.98 127.50,134.29 128.06,135.90 128.62,136.78 129.18,134.37 129.74,137.95 130.30,137.01 130.86,134.51 131.42,134.37 131.98,136.07 132.54,136.48 133.10,135.46" stroke="#9acd32" stroke-width="0.85"/>
</g>
<rect x="29.5" y="113.5" width="108.0" height="71.0" fill="none" stroke="#a0a0a0" stroke-width="1"/>
<line x1="35.10" y1="184.5" x2="35.10" y2="185.9" stroke="#a0a0a0" stroke-width="0.5"/>
<text x="35.10" y="189.80" font-size="3.3" text-anchor="middle">0</text>
<line x1="49.10" y1="184.5" x2="49.10" y2="185.9" stroke="#a0a0a0" stroke-width="0.5"/>
<text x="49.10" y="189.80" font-size="3.3" text-anchor="middle">25</text>
<line x1="63.10" y1="184.5" x2="63.10" y2="185.9" stroke="#a0a0a0" stroke-width="0.5"/>
<text x="63.10" y="189.80" font-size="3.3" text-anchor="middle">50</text>
<line x1="77.10" y1="184.5" x2="77.10" y2="185.9" stroke="#a0a0a0" stroke-width="0.5"/>
<text x="77.10" y="189.80" font-size="3.3" text-anchor="middle">75</text>
<line x1="91.10" y1="184.5" x2="91.10" y2="185.9" stroke="#a0a0a0" stroke-width="0.5"/>
<text x="91.10" y="189.80" font-size="3.3" text-anchor="middle">100</text>
<line x1="105.10" y1="184.5" x2="105.10" y2="185.9" stroke="#a0a0a0" stroke-width="0.5"/>
<text x="105.10" y="189.80" font-size="3.3" text-anchor="middle">125</text>
<line x1="119.10" y1="184.5" x2="119.10" y2="185.9" stroke="#a0a0a0" stroke-width="0.5"/>
<text x="119.10" y="189.80" font-size="3.3" text-anchor="middle">150</text>
<line x1="133.10" y1="184.5" x2="133.10" y2="185.9" stroke="#a0a0a0" stroke-width="0.5"/>
<text x="133.10" y="189.80" font-size="3.3" text-anchor="middle">175</text>
<line x1="28.1" y1="174.85" x2="29.5" y2="174.85" stroke="#a0a0a0" stroke-width="0.5"/>
<text x="27.50" y="176.50" font-size="3.3" text-anchor="end">0.75</text>
<line x1="28.1" y1="161.16" x2="29.5" y2="161.16" stroke="#a0a0a0" stroke-width="0.5"/>
<text x="27.50" y="162.81" font-size="3.3" text-anchor="end">0.80</text>
<line x1="28.1" y1="147.47" x2="29.5" y2="147.47" stroke="#a0a0a0" stroke-width="0.5"/>
<text x="27.50" y="149.12" font-size="3.3" text-anchor="end">0.85</text>
<line x1="28.1" y1="133.79" x2="29.5" y2="133.79" stroke="#a0a0a0" stroke-width="0.5"/>
<text x="27.50" y="135.44" font-size="3.3" text-anchor="end">0.90</text>
<line x1="28.1" y1="120.10" x2="29.5" y2="120.10" stroke="#a0a0a0" stroke-width="0.5"/>
<text x="27.50" y="121.75" font-size="3.3" text-anchor="end">0.95</text>
<rect x="77.37" y="191.30" width="12.27" height="3.20" fill="#fff" stroke="none"/>
<text x="83.50" y="193.80" font-size="3.2" text-anchor="middle">Epochs</text>
<rect x="15.00" y="142.02" width="3.20" height="15.41" fill="#fff" stroke="none"/>
<text x="17.50" y="149.72" font-size="3.2" text-anchor="middle" transform="rotate(-90 17.50 149.72)">Accuracy</text>
<rect x="30.30" y="171.90" width="28.00" height="10.40" rx="0.6" fill="#fff" fill-opacity="0.45" stroke="#e9e9e9" stroke-width="0.5"/>
<line x1="31.5" y1="174.5" x2="38.5" y2="174.5" stroke="#1c1cdc" stroke-width="0.8"/>
<text x="41.0" y="175.69" font-size="3.3">Train</text>
<line x1="31.5" y1="179.7" x2="38.5" y2="179.7" stroke="#9acd32" stroke-width="0.8"/>
<text x="41.0" y="180.89" font-size="3.3">Validation</text>
<path d="M153.5 200.5V107.5" fill="none" stroke="#e3e3e3" stroke-width="1"/>
<path d="M153.5 107.5H286.5" fill="none" stroke="#e3e3e3" stroke-width="1"/>
<path d="M286.5 107.5V200.5H153.5" fill="none" stroke="#e3e3e3" stroke-width="1"/>
<path d="M287.5 108.5V201.5H154.5" fill="none" stroke="#f3f3f3" stroke-width="1"/>
<rect x="161.5" y="116.5" width="117.0" height="76.0" fill="none" stroke="#dcdcdc" stroke-width="0.8"/>
<clipPath id="c5"><rect x="172.5" y="114.25" width="107.5" height="70.05000000000001"/></clipPath>
<rect x="172.5" y="114.25" width="107.5" height="70.05000000000001" fill="#fff" stroke="none"/>
<g clip-path="url(#c5)" fill="none" stroke-linejoin="round">
<polyline points="177.00,126.43 177.56,140.67 178.12,146.04 178.68,149.02 179.24,150.51 179.80,151.97 180.36,152.41 180.92,153.11 181.48,153.52 182.04,153.96 182.60,154.23 183.16,154.40 183.72,154.65 184.28,155.13 184.84,155.88 185.40,155.82 185.96,156.27 186.52,155.77 187.08,156.28 187.64,156.70 188.20,156.90 188.76,157.40 189.32,157.15 189.88,157.79 190.44,157.39 191.00,158.39 191.56,158.30 192.12,157.44 192.68,157.50 193.24,157.67 193.80,158.93 194.36,158.90 194.92,158.97 195.48,159.15 196.04,158.51 196.60,158.87 197.16,158.77 197.72,159.04 198.28,159.24 198.84,158.25 199.40,158.87 199.96,159.55 200.52,158.79 201.08,159.58 201.64,159.50 202.20,158.94 202.76,159.85 203.32,159.72 203.88,159.82 204.44,159.13 205.00,159.11 205.56,159.85 206.12,159.30 206.68,160.61 207.24,160.24 207.80,159.76 208.36,160.41 208.92,160.27 209.48,160.39 210.04,160.30 210.60,160.54 211.16,161.27 211.72,160.89 212.28,161.05 212.84,160.58 213.40,161.49 213.96,161.18 214.52,160.46 215.08,160.80 215.64,160.05 216.20,161.02 216.76,162.06 217.32,160.69 217.88,161.02 218.44,161.23 219.00,161.60 219.56,161.17 220.12,160.88 220.68,160.98 221.24,161.08 221.80,160.89 222.36,161.06 222.92,161.52 223.48,161.03 224.04,160.95 224.60,160.41 225.16,161.13 225.72,161.55 226.28,160.72 226.84,160.88 227.40,161.38 227.96,161.63 228.52,160.59 229.08,161.82 229.64,161.42 230.20,161.08 230.76,161.59 231.32,161.27 231.88,161.01 232.44,161.36 233.00,161.70 233.56,117.17 234.12,127.68 234.68,136.73 235.24,145.93 235.80,152.31 236.36,153.67 236.92,155.53 237.48,156.45 238.04,158.89 238.60,159.14 239.16,160.40 239.72,160.45 240.28,161.97 240.84,162.84 241.40,163.22 241.96,162.72 242.52,164.71 243.08,166.14 243.64,166.45 244.20,164.74 244.76,166.67 245.32,166.95 245.88,167.10 246.44,166.70 247.00,167.57 247.56,167.95 248.12,168.56 248.68,169.37 249.24,169.35 249.80,170.00 250.36,170.98 250.92,171.97 251.48,170.22 252.04,170.70 252.60,171.29 253.16,171.62 253.72,172.07 254.28,173.10 254.84,173.43 255.40,173.43 255.96,173.67 256.52,174.07 257.08,174.62 257.64,173.81 258.20,174.11 258.76,173.82 259.32,173.91 259.88,175.38 260.44,174.87 261.00,175.39 261.56,175.33 262.12,174.53 262.68,174.88 263.24,175.71 263.80,175.58 264.36,175.96 264.92,176.58 265.48,176.76 266.04,177.19 266.60,176.05 267.16,177.58 267.72,177.43 268.28,177.44 268.84,177.95 269.40,176.72 269.96,177.43 270.52,179.17 271.08,178.71 271.64,177.89 272.20,178.93 272.76,178.78 273.32,178.98 273.88,179.28 274.44,179.99 275.00,179.88" stroke="#1c1cdc" stroke-width="0.95"/>
<polyline points="177.00,142.84 177.56,146.22 178.12,147.86 178.68,148.74 179.24,149.22 179.80,149.34 180.36,150.54 180.92,151.08 181.48,151.33 182.04,151.73 182.60,150.92 183.16,151.49 183.72,150.50 184.28,152.34 184.84,152.26 185.40,153.32 185.96,152.16 186.52,152.84 187.08,153.08 187.64,152.77 188.20,151.26 188.76,152.31 189.32,152.52 189.88,152.88 190.44,153.03 191.00,152.68 191.56,153.20 192.12,152.69 192.68,153.05 193.24,152.64 193.80,152.41 194.36,152.84 194.92,152.76 195.48,152.69 196.04,152.45 196.60,152.49 197.16,150.88 197.72,152.66 198.28,153.29 198.84,153.63 199.40,153.30 199.96,151.61 200.52,152.84 201.08,153.16 201.64,152.69 202.20,151.51 202.76,152.68 203.32,152.66 203.88,153.28 204.44,153.24 205.00,152.53 205.56,153.34 206.12,152.88 206.68,153.20 207.24,152.83 207.80,151.13 208.36,153.24 208.92,152.57 209.48,153.30 210.04,153.33 210.60,153.13 211.16,153.01 211.72,153.36 212.28,150.88 212.84,153.38 213.40,152.98 213.96,152.90 214.52,153.07 215.08,152.09 215.64,152.89 216.20,153.45 216.76,153.14 217.32,153.00 217.88,152.90 218.44,152.88 219.00,152.97 219.56,153.39 220.12,152.62 220.68,150.63 221.24,153.19 221.80,153.38 222.36,152.93 222.92,153.22 223.48,153.64 224.04,152.90 224.60,153.31 225.16,152.44 225.72,154.57 226.28,151.26 226.84,153.52 227.40,153.68 227.96,153.14 228.52,152.24 229.08,153.79 229.64,152.97 230.20,152.93 230.76,153.15 231.32,150.75 231.88,153.47 232.44,152.55 233.00,153.46 233.56,127.54 234.12,133.99 234.68,142.11 235.24,145.78 235.80,147.14 236.36,148.54 236.92,149.87 237.48,150.59 238.04,151.36 238.60,151.96 239.16,151.91 239.72,152.54 240.28,152.97 240.84,154.10 241.40,154.55 241.96,154.15 242.52,154.72 243.08,155.02 243.64,154.73 244.20,155.90 244.76,155.84 245.32,156.57 245.88,157.08 246.44,157.31 247.00,156.87 247.56,157.69 248.12,158.28 248.68,157.90 249.24,157.79 249.80,157.74 250.36,157.46 250.92,158.10 251.48,158.97 252.04,158.77 252.60,158.52 253.16,159.27 253.72,158.94 254.28,159.04 254.84,160.33 255.40,159.86 255.96,159.71 256.52,160.12 257.08,160.50 257.64,160.86 258.20,160.30 258.76,160.87 259.32,161.22 259.88,160.55 260.44,160.08 261.00,159.77 261.56,159.76 262.12,159.40 262.68,159.26 263.24,158.90 263.80,159.68 264.36,159.31 264.92,159.84 265.48,159.76 266.04,159.23 266.60,159.56 267.16,159.06 267.72,159.43 268.28,159.28 268.84,159.05 269.40,159.75 269.96,160.43 270.52,160.17 271.08,160.10 271.64,159.83 272.20,160.15 272.76,159.53 273.32,159.52 273.88,159.97 274.44,159.60 275.00,159.65" stroke="#9acd32" stroke-width="0.85"/>
</g>
<rect x="172.5" y="114.5" width="108.0" height="70.0" fill="none" stroke="#a0a0a0" stroke-width="1"/>
<line x1="177.00" y1="184.5" x2="177.00" y2="185.9" stroke="#a0a0a0" stroke-width="0.5"/>
<text x="177.00" y="189.80" font-size="3.3" text-anchor="middle">0</text>
<line x1="191.00" y1="184.5" x2="191.00" y2="185.9" stroke="#a0a0a0" stroke-width="0.5"/>
<text x="191.00" y="189.80" font-size="3.3" text-anchor="middle">25</text>
<line x1="205.00" y1="184.5" x2="205.00" y2="185.9" stroke="#a0a0a0" stroke-width="0.5"/>
<text x="205.00" y="189.80" font-size="3.3" text-anchor="middle">50</text>
<line x1="219.00" y1="184.5" x2="219.00" y2="185.9" stroke="#a0a0a0" stroke-width="0.5"/>
<text x="219.00" y="189.80" font-size="3.3" text-anchor="middle">75</text>
<line x1="233.00" y1="184.5" x2="233.00" y2="185.9" stroke="#a0a0a0" stroke-width="0.5"/>
<text x="233.00" y="189.80" font-size="3.3" text-anchor="middle">100</text>
<line x1="247.00" y1="184.5" x2="247.00" y2="185.9" stroke="#a0a0a0" stroke-width="0.5"/>
<text x="247.00" y="189.80" font-size="3.3" text-anchor="middle">125</text>
<line x1="261.00" y1="184.5" x2="261.00" y2="185.9" stroke="#a0a0a0" stroke-width="0.5"/>
<text x="261.00" y="189.80" font-size="3.3" text-anchor="middle">150</text>
<line x1="275.00" y1="184.5" x2="275.00" y2="185.9" stroke="#a0a0a0" stroke-width="0.5"/>
<text x="275.00" y="189.80" font-size="3.3" text-anchor="middle">175</text>
<line x1="171.1" y1="181.75" x2="172.5" y2="181.75" stroke="#a0a0a0" stroke-width="0.5"/>
<text x="170.50" y="183.40" font-size="3.3" text-anchor="end">0.1</text>
<line x1="171.1" y1="169.15" x2="172.5" y2="169.15" stroke="#a0a0a0" stroke-width="0.5"/>
<text x="170.50" y="170.80" font-size="3.3" text-anchor="end">0.2</text>
<line x1="171.1" y1="156.55" x2="172.5" y2="156.55" stroke="#a0a0a0" stroke-width="0.5"/>
<text x="170.50" y="158.20" font-size="3.3" text-anchor="end">0.3</text>
<line x1="171.1" y1="143.95" x2="172.5" y2="143.95" stroke="#a0a0a0" stroke-width="0.5"/>
<text x="170.50" y="145.60" font-size="3.3" text-anchor="end">0.4</text>
<line x1="171.1" y1="131.35" x2="172.5" y2="131.35" stroke="#a0a0a0" stroke-width="0.5"/>
<text x="170.50" y="133.00" font-size="3.3" text-anchor="end">0.5</text>
<line x1="171.1" y1="118.75" x2="172.5" y2="118.75" stroke="#a0a0a0" stroke-width="0.5"/>
<text x="170.50" y="120.40" font-size="3.3" text-anchor="end">0.6</text>
<rect x="220.12" y="191.30" width="12.27" height="3.20" fill="#fff" stroke="none"/>
<text x="226.25" y="193.80" font-size="3.2" text-anchor="middle">Epochs</text>
<rect x="159.80" y="145.94" width="3.20" height="7.88" fill="#fff" stroke="none"/>
<text x="162.30" y="149.88" font-size="3.2" text-anchor="middle" transform="rotate(-90 162.30 149.88)">Loss</text>
<rect x="173.80" y="171.60" width="28.00" height="10.80" rx="0.6" fill="#fff" fill-opacity="0.45" stroke="#e9e9e9" stroke-width="0.5"/>
<line x1="175" y1="174.2" x2="182" y2="174.2" stroke="#1c1cdc" stroke-width="0.8"/>
<text x="184.5" y="175.39" font-size="3.3">Train</text>
<line x1="175" y1="179.79999999999998" x2="182" y2="179.79999999999998" stroke="#9acd32" stroke-width="0.8"/>
<text x="184.5" y="180.99" font-size="3.3">Validation</text>
<path d="M296.5 200.5V107.5" fill="none" stroke="#e3e3e3" stroke-width="1"/>
<path d="M296.5 107.5H422.5" fill="none" stroke="#e3e3e3" stroke-width="1"/>
<path d="M422.5 107.5V200.5H296.5" fill="none" stroke="#e3e3e3" stroke-width="1"/>
<path d="M423.5 108.5V201.5H297.5" fill="none" stroke="#f3f3f3" stroke-width="1"/>
<rect x="304.5" y="115.5" width="110.0" height="77.0" fill="none" stroke="#dcdcdc" stroke-width="0.8"/>
<clipPath id="c6"><rect x="313.75" y="118.5" width="102.55000000000001" height="66.30000000000001"/></clipPath>
<rect x="313.75" y="118.5" width="102.55000000000001" height="66.30000000000001" fill="#fff" stroke="none"/>
<g clip-path="url(#c6)" fill="none" stroke-linejoin="round">
<polyline points="318.75,181.75 318.75,169.80 319.21,157.25 320.04,148.89 320.78,144.11 321.89,136.34 323.18,131.56 325.58,128.57 329.54,126.18 334.43,124.39 342.27,122.90 350.12,122.30 358.42,122.00 411.00,122.00" stroke="#f3b23a" stroke-width="1.05"/>
<polyline points="318.75,181.75 411.00,122.00" stroke="#4040a6" stroke-width="0.7" stroke-dasharray="1.7,0.66"/>
</g>
<rect x="313.5" y="118.5" width="103.0" height="66.0" fill="none" stroke="#a0a0a0" stroke-width="1"/>
<line x1="318.75" y1="184.5" x2="318.75" y2="185.9" stroke="#a0a0a0" stroke-width="0.5"/>
<text x="318.75" y="189.80" font-size="3.3" text-anchor="middle">0.0</text>
<line x1="337.20" y1="184.5" x2="337.20" y2="185.9" stroke="#a0a0a0" stroke-width="0.5"/>
<text x="337.20" y="189.80" font-size="3.3" text-anchor="middle">0.2</text>
<line x1="355.65" y1="184.5" x2="355.65" y2="185.9" stroke="#a0a0a0" stroke-width="0.5"/>
<text x="355.65" y="189.80" font-size="3.3" text-anchor="middle">0.4</text>
<line x1="374.10" y1="184.5" x2="374.10" y2="185.9" stroke="#a0a0a0" stroke-width="0.5"/>
<text x="374.10" y="189.80" font-size="3.3" text-anchor="middle">0.6</text>
<line x1="392.55" y1="184.5" x2="392.55" y2="185.9" stroke="#a0a0a0" stroke-width="0.5"/>
<text x="392.55" y="189.80" font-size="3.3" text-anchor="middle">0.8</text>
<line x1="411.00" y1="184.5" x2="411.00" y2="185.9" stroke="#a0a0a0" stroke-width="0.5"/>
<text x="411.00" y="189.80" font-size="3.3" text-anchor="middle">1.0</text>
<line x1="312.1" y1="181.75" x2="313.5" y2="181.75" stroke="#a0a0a0" stroke-width="0.5"/>
<text x="311.50" y="183.40" font-size="3.3" text-anchor="end">0.0</text>
<line x1="312.1" y1="169.80" x2="313.5" y2="169.80" stroke="#a0a0a0" stroke-width="0.5"/>
<text x="311.50" y="171.45" font-size="3.3" text-anchor="end">0.2</text>
<line x1="312.1" y1="157.85" x2="313.5" y2="157.85" stroke="#a0a0a0" stroke-width="0.5"/>
<text x="311.50" y="159.50" font-size="3.3" text-anchor="end">0.4</text>
<line x1="312.1" y1="145.90" x2="313.5" y2="145.90" stroke="#a0a0a0" stroke-width="0.5"/>
<text x="311.50" y="147.55" font-size="3.3" text-anchor="end">0.6</text>
<line x1="312.1" y1="133.95" x2="313.5" y2="133.95" stroke="#a0a0a0" stroke-width="0.5"/>
<text x="311.50" y="135.60" font-size="3.3" text-anchor="end">0.8</text>
<line x1="312.1" y1="122.00" x2="313.5" y2="122.00" stroke="#a0a0a0" stroke-width="0.5"/>
<text x="311.50" y="123.65" font-size="3.3" text-anchor="end">1.0</text>
<rect x="350.82" y="191.28" width="28.40" height="2.97" fill="#fff" stroke="none"/>
<text x="365.02" y="193.60" font-size="2.97" text-anchor="middle">False Positive Rate</text>
<rect x="300.68" y="138.62" width="2.97" height="27.26" fill="#fff" stroke="none"/>
<text x="303.00" y="152.25" font-size="2.97" text-anchor="middle" transform="rotate(-90 303.00 152.25)">True Positive Rate</text>
<rect x="321.05" y="113.60" width="87.94" height="3.0" fill="#fff" stroke="none"/>
<text x="365.02" y="116.80" font-size="3.68" text-anchor="middle">Receiver Operating Characteristic (ROC) Curve</text>
<rect x="395.80" y="177.90" width="18.63" height="5.20" rx="0.6" fill="#fff" fill-opacity="0.45" stroke="#e9e9e9" stroke-width="0.5"/>
<line x1="397" y1="180.5" x2="404" y2="180.5" stroke="#f3b23a" stroke-width="0.8"/>
<text x="406.5" y="181.69" font-size="3.3">ROC</text>
<path d="M9.5 306.5V213.5" fill="none" stroke="#e3e3e3" stroke-width="1"/>
<path d="M9.5 213.5H144.5" fill="none" stroke="#e3e3e3" stroke-width="1"/>
<path d="M144.5 213.5V306.5H9.5" fill="none" stroke="#e3e3e3" stroke-width="1"/>
<path d="M145.5 214.5V307.5H10.5" fill="none" stroke="#f3f3f3" stroke-width="1"/>
<rect x="17.5" y="222.5" width="119.0" height="75.0" fill="none" stroke="#dcdcdc" stroke-width="0.8"/>
<clipPath id="c7"><rect x="30" y="219.5" width="108" height="70.0"/></clipPath>
<rect x="30" y="219.5" width="108" height="70.0" fill="#fff" stroke="none"/>
<g clip-path="url(#c7)" fill="none" stroke-linejoin="round">
<polyline points="35.00,270.64 35.57,257.79 36.15,254.99 36.72,254.78 37.30,252.41 37.87,253.40 38.45,251.41 39.02,250.57 39.59,248.87 40.17,249.23 40.74,249.19 41.32,247.19 41.89,246.52 42.47,247.75 43.04,246.22 43.61,247.08 44.19,246.62 44.76,246.55 45.34,247.70 45.91,246.69 46.49,247.54 47.06,247.48 47.63,246.98 48.21,247.98 48.78,247.46 49.36,246.02 49.93,245.57 50.51,245.26 51.08,246.11 51.65,245.09 52.23,244.28 52.80,244.43 53.38,246.21 53.95,246.34 54.53,244.58 55.10,243.84 55.67,244.74 56.25,243.94 56.82,244.42 57.40,244.38 57.97,244.27 58.55,244.26 59.12,244.69 59.69,242.93 60.27,243.57 60.84,244.62 61.42,244.37 61.99,244.94 62.57,243.80 63.14,245.23 63.71,244.41 64.29,243.60 64.86,243.74 65.44,243.73 66.01,245.05 66.59,243.58 67.16,244.26 67.73,243.16 68.31,244.25 68.88,242.66 69.46,243.50 70.03,243.13 70.61,243.87 71.18,243.76 71.75,243.63 72.33,242.47 72.90,243.44 73.48,243.07 74.05,241.99 74.63,242.43 75.20,242.95 75.77,242.49 76.35,243.70 76.92,243.73 77.50,242.21 78.07,240.40 78.65,240.91 79.22,240.47 79.79,241.88 80.37,242.65 80.94,241.44 81.52,243.19 82.09,244.49 82.67,242.07 83.24,241.66 83.81,241.95 84.39,241.36 84.96,242.00 85.54,242.36 86.11,243.46 86.69,242.81 87.26,243.65 87.83,243.08 88.41,241.42 88.98,242.74 89.56,242.66 90.13,243.51 90.71,241.08 91.28,244.58 91.85,268.07 92.43,262.88 93.00,255.59 93.58,250.37 94.15,246.02 94.73,245.18 95.30,243.02 95.87,243.53 96.45,242.02 97.02,242.08 97.60,241.18 98.17,240.74 98.75,239.73 99.32,239.06 99.89,239.47 100.47,237.83 101.04,237.49 101.62,236.82 102.19,236.08 102.77,237.19 103.34,234.89 103.91,236.25 104.49,235.23 105.06,234.20 105.64,233.32 106.21,233.04 106.79,232.68 107.36,232.08 107.93,232.46 108.51,231.36 109.08,229.53 109.66,231.71 110.23,230.04 110.81,229.68 111.38,229.82 111.95,229.13 112.53,228.71 113.10,228.61 113.68,228.24 114.25,228.49 114.83,227.30 115.40,227.70 115.97,227.78 116.55,225.88 117.12,227.14 117.70,226.92 118.27,227.53 118.85,226.10 119.42,226.71 119.99,226.35 120.57,225.40 121.14,225.34 121.72,225.85 122.29,225.04 122.87,224.99 123.44,225.19 124.01,225.50 124.59,224.62 125.16,225.59 125.74,224.44 126.31,224.53 126.89,225.09 127.46,224.88 128.03,222.85 128.61,225.21 129.18,223.99 129.76,224.13 130.33,223.63 130.91,223.63 131.48,223.23 132.05,223.26 132.63,223.59 133.20,224.26" stroke="#1c1cdc" stroke-width="0.95"/>
<polyline points="35.00,263.22 35.57,260.89 36.15,258.79 36.72,256.03 37.30,256.02 37.87,258.12 38.45,256.81 39.02,257.54 39.59,257.59 40.17,253.21 40.74,256.11 41.32,254.63 41.89,255.06 42.47,255.37 43.04,256.86 43.61,256.75 44.19,254.72 44.76,253.75 45.34,257.89 45.91,256.63 46.49,255.60 47.06,253.85 47.63,254.55 48.21,254.16 48.78,254.96 49.36,256.62 49.93,255.47 50.51,253.51 51.08,255.03 51.65,256.98 52.23,253.28 52.80,254.62 53.38,254.23 53.95,252.50 54.53,256.01 55.10,256.19 55.67,258.73 56.25,255.02 56.82,254.37 57.40,255.25 57.97,255.19 58.55,253.90 59.12,254.61 59.69,254.62 60.27,255.29 60.84,255.25 61.42,253.72 61.99,255.31 62.57,255.76 63.14,255.94 63.71,255.33 64.29,254.89 64.86,254.43 65.44,254.96 66.01,255.60 66.59,257.41 67.16,254.26 67.73,256.51 68.31,255.34 68.88,253.45 69.46,254.76 70.03,256.24 70.61,254.11 71.18,255.47 71.75,255.76 72.33,253.34 72.90,254.13 73.48,250.62 74.05,256.58 74.63,255.05 75.20,254.44 75.77,253.19 76.35,255.40 76.92,252.81 77.50,254.80 78.07,256.02 78.65,255.21 79.22,255.04 79.79,255.15 80.37,255.80 80.94,255.25 81.52,253.59 82.09,253.71 82.67,252.29 83.24,256.09 83.81,256.39 84.39,251.97 84.96,254.37 85.54,254.35 86.11,256.10 86.69,254.34 87.26,254.81 87.83,254.85 88.41,253.22 88.98,256.01 89.56,254.66 90.13,257.33 90.71,254.27 91.28,256.43 91.85,284.66 92.43,278.02 93.00,268.64 93.58,260.48 94.15,254.20 94.73,254.10 95.30,251.46 95.87,251.27 96.45,252.85 97.02,250.37 97.60,249.45 98.17,247.72 98.75,248.29 99.32,248.78 99.89,248.98 100.47,247.12 101.04,246.04 101.62,246.03 102.19,246.56 102.77,245.90 103.34,247.61 103.91,245.28 104.49,244.10 105.06,245.38 105.64,244.90 106.21,243.44 106.79,244.46 107.36,242.42 107.93,243.50 108.51,242.49 109.08,244.01 109.66,243.15 110.23,242.00 110.81,245.36 111.38,242.51 111.95,246.40 112.53,244.41 113.10,243.70 113.68,245.12 114.25,244.29 114.83,243.36 115.40,244.47 115.97,246.78 116.55,243.69 117.12,243.33 117.70,244.19 118.27,244.23 118.85,244.04 119.42,245.73 119.99,244.28 120.57,241.92 121.14,242.49 121.72,242.77 122.29,243.93 122.87,243.76 123.44,242.70 124.01,243.17 124.59,243.19 125.16,243.75 125.74,242.58 126.31,243.82 126.89,243.26 127.46,242.02 128.03,244.91 128.61,242.33 129.18,243.81 129.76,245.31 130.33,243.73 130.91,243.53 131.48,241.16 132.05,240.98 132.63,239.53 133.20,242.24" stroke="#9acd32" stroke-width="0.85"/>
</g>
<rect x="30.5" y="219.5" width="108.0" height="70.0" fill="none" stroke="#a0a0a0" stroke-width="1"/>
<line x1="35.00" y1="289.5" x2="35.00" y2="290.9" stroke="#a0a0a0" stroke-width="0.5"/>
<text x="35.00" y="294.80" font-size="3.3" text-anchor="middle">0</text>
<line x1="49.36" y1="289.5" x2="49.36" y2="290.9" stroke="#a0a0a0" stroke-width="0.5"/>
<text x="49.36" y="294.80" font-size="3.3" text-anchor="middle">25</text>
<line x1="63.71" y1="289.5" x2="63.71" y2="290.9" stroke="#a0a0a0" stroke-width="0.5"/>
<text x="63.71" y="294.80" font-size="3.3" text-anchor="middle">50</text>
<line x1="78.07" y1="289.5" x2="78.07" y2="290.9" stroke="#a0a0a0" stroke-width="0.5"/>
<text x="78.07" y="294.80" font-size="3.3" text-anchor="middle">75</text>
<line x1="92.43" y1="289.5" x2="92.43" y2="290.9" stroke="#a0a0a0" stroke-width="0.5"/>
<text x="92.43" y="294.80" font-size="3.3" text-anchor="middle">100</text>
<line x1="106.79" y1="289.5" x2="106.79" y2="290.9" stroke="#a0a0a0" stroke-width="0.5"/>
<text x="106.79" y="294.80" font-size="3.3" text-anchor="middle">125</text>
<line x1="121.14" y1="289.5" x2="121.14" y2="290.9" stroke="#a0a0a0" stroke-width="0.5"/>
<text x="121.14" y="294.80" font-size="3.3" text-anchor="middle">150</text>
<line x1="135.50" y1="289.5" x2="135.50" y2="290.9" stroke="#a0a0a0" stroke-width="0.5"/>
<text x="135.50" y="294.80" font-size="3.3" text-anchor="middle">175</text>
<line x1="29.1" y1="282.00" x2="30.5" y2="282.00" stroke="#a0a0a0" stroke-width="0.5"/>
<text x="28.50" y="283.65" font-size="3.3" text-anchor="end">0.70</text>
<line x1="29.1" y1="271.25" x2="30.5" y2="271.25" stroke="#a0a0a0" stroke-width="0.5"/>
<text x="28.50" y="272.90" font-size="3.3" text-anchor="end">0.75</text>
<line x1="29.1" y1="260.50" x2="30.5" y2="260.50" stroke="#a0a0a0" stroke-width="0.5"/>
<text x="28.50" y="262.15" font-size="3.3" text-anchor="end">0.80</text>
<line x1="29.1" y1="249.75" x2="30.5" y2="249.75" stroke="#a0a0a0" stroke-width="0.5"/>
<text x="28.50" y="251.40" font-size="3.3" text-anchor="end">0.85</text>
<line x1="29.1" y1="239.00" x2="30.5" y2="239.00" stroke="#a0a0a0" stroke-width="0.5"/>
<text x="28.50" y="240.65" font-size="3.3" text-anchor="end">0.90</text>
<line x1="29.1" y1="228.25" x2="30.5" y2="228.25" stroke="#a0a0a0" stroke-width="0.5"/>
<text x="28.50" y="229.90" font-size="3.3" text-anchor="end">0.95</text>
<rect x="77.87" y="296.70" width="12.27" height="3.20" fill="#fff" stroke="none"/>
<text x="84.00" y="299.20" font-size="3.2" text-anchor="middle">Epochs</text>
<rect x="15.50" y="247.40" width="3.20" height="15.41" fill="#fff" stroke="none"/>
<text x="18.00" y="255.10" font-size="3.2" text-anchor="middle" transform="rotate(-90 18.00 255.10)">Accuracy</text>
<rect x="30.80" y="276.90" width="28.00" height="10.70" rx="0.6" fill="#fff" fill-opacity="0.45" stroke="#e9e9e9" stroke-width="0.5"/>
<line x1="32" y1="279.5" x2="39" y2="279.5" stroke="#1c1cdc" stroke-width="0.8"/>
<text x="41.5" y="280.69" font-size="3.3">Train</text>
<line x1="32" y1="285.0" x2="39" y2="285.0" stroke="#9acd32" stroke-width="0.8"/>
<text x="41.5" y="286.19" font-size="3.3">Validation</text>
<path d="M153.5 306.5V213.5" fill="none" stroke="#e3e3e3" stroke-width="1"/>
<path d="M153.5 213.5H286.5" fill="none" stroke="#e3e3e3" stroke-width="1"/>
<path d="M286.5 213.5V306.5H153.5" fill="none" stroke="#e3e3e3" stroke-width="1"/>
<path d="M287.5 214.5V307.5H154.5" fill="none" stroke="#f3f3f3" stroke-width="1"/>
<rect x="162.5" y="221.5" width="116.0" height="76.0" fill="none" stroke="#dcdcdc" stroke-width="0.8"/>
<clipPath id="c8"><rect x="172.5" y="219.6" width="107.5" height="70.4"/></clipPath>
<rect x="172.5" y="219.6" width="107.5" height="70.4" fill="#fff" stroke="none"/>
<g clip-path="url(#c8)" fill="none" stroke-linejoin="round">
<polyline points="177.50,251.23 178.06,259.28 178.63,260.79 179.19,261.89 179.76,263.11 180.32,263.39 180.89,263.88 181.45,263.83 182.01,264.99 182.58,264.71 183.14,265.23 183.71,265.28 184.27,265.01 184.84,265.86 185.40,265.77 185.96,266.20 186.53,265.91 187.09,266.53 187.66,266.28 188.22,266.66 188.79,266.24 189.35,267.28 189.91,266.34 190.48,266.85 191.04,267.39 191.61,267.56 192.17,267.18 192.74,267.44 193.30,267.63 193.86,267.29 194.43,267.77 194.99,268.31 195.56,267.80 196.12,268.17 196.69,268.31 197.25,268.46 197.81,268.64 198.38,268.86 198.94,268.75 199.51,269.23 200.07,268.89 200.64,269.34 201.20,268.99 201.76,269.23 202.33,269.09 202.89,269.31 203.46,269.32 204.02,269.45 204.59,269.36 205.15,269.01 205.71,269.21 206.28,269.12 206.84,269.58 207.41,269.17 207.97,269.27 208.54,269.59 209.10,269.64 209.66,269.50 210.23,269.62 210.79,269.37 211.36,269.49 211.92,269.71 212.49,270.01 213.05,269.67 213.61,269.99 214.18,269.74 214.74,269.74 215.31,269.75 215.87,269.80 216.44,270.05 217.00,270.03 217.56,270.40 218.13,269.89 218.69,269.86 219.26,270.09 219.82,270.34 220.39,270.10 220.95,270.34 221.51,270.29 222.08,269.93 222.64,270.36 223.21,270.55 223.77,270.34 224.34,270.52 224.90,270.77 225.46,270.56 226.03,270.42 226.59,270.75 227.16,270.41 227.72,270.75 228.29,271.00 228.85,270.67 229.41,270.92 229.98,270.58 230.54,270.91 231.11,270.80 231.67,270.89 232.24,270.76 232.80,270.70 233.36,270.81 233.93,247.32 234.49,258.63 235.06,266.82 235.62,267.56 236.19,268.50 236.75,269.12 237.31,269.92 237.88,271.05 238.44,271.57 239.01,271.87 239.57,272.38 240.14,273.12 240.70,273.00 241.26,273.80 241.83,274.23 242.39,274.65 242.96,274.95 243.52,274.59 244.09,275.50 244.65,275.54 245.21,276.40 245.78,276.66 246.34,277.23 246.91,277.05 247.47,277.23 248.04,277.72 248.60,277.99 249.16,278.37 249.73,278.63 250.29,278.80 250.86,279.03 251.42,279.81 251.99,279.95 252.55,280.12 253.11,280.70 253.68,280.15 254.24,280.45 254.81,280.90 255.37,281.23 255.94,281.56 256.50,281.55 257.06,281.75 257.63,282.16 258.19,282.36 258.76,282.29 259.32,282.71 259.89,282.64 260.45,283.08 261.01,282.87 261.58,283.19 262.14,283.18 262.71,283.31 263.27,283.28 263.84,283.64 264.40,283.56 264.96,283.54 265.53,283.77 266.09,284.39 266.66,283.97 267.22,284.14 267.79,284.46 268.35,284.61 268.91,284.51 269.48,284.06 270.04,285.04 270.61,284.94 271.17,284.94 271.74,284.76 272.30,285.23 272.86,284.82 273.43,285.40 273.99,285.55" stroke="#1c1cdc" stroke-width="0.95"/>
<polyline points="177.50,252.99 178.06,257.67 178.63,260.01 179.19,260.76 179.76,261.47 180.32,261.67 180.89,261.76 181.45,261.48 182.01,261.09 182.58,260.82 183.14,261.28 183.71,261.41 184.27,262.07 184.84,262.38 185.40,260.85 185.96,262.07 186.53,261.90 187.09,261.92 187.66,261.89 188.22,262.08 188.79,259.78 189.35,261.43 189.91,261.62 190.48,262.05 191.04,261.51 191.61,262.61 192.17,261.49 192.74,263.60 193.30,261.30 193.86,262.42 194.43,261.93 194.99,260.63 195.56,260.05 196.12,261.97 196.69,261.78 197.25,261.53 197.81,262.44 198.38,260.81 198.94,261.56 199.51,261.73 200.07,261.20 200.64,262.68 201.20,261.17 201.76,261.87 202.33,261.93 202.89,261.36 203.46,262.98 204.02,261.51 204.59,260.69 205.15,261.25 205.71,261.17 206.28,261.42 206.84,262.10 207.41,261.78 207.97,261.42 208.54,261.73 209.10,262.91 209.66,260.29 210.23,262.04 210.79,262.14 211.36,253.88 211.92,260.17 212.49,261.87 213.05,262.09 213.61,261.78 214.18,262.31 214.74,263.02 215.31,262.21 215.87,262.19 216.44,262.98 217.00,259.40 217.56,263.16 218.13,262.65 218.69,261.73 219.26,262.10 219.82,261.25 220.39,261.44 220.95,261.51 221.51,262.26 222.08,261.76 222.64,262.20 223.21,261.69 223.77,262.05 224.34,261.98 224.90,262.69 225.46,262.32 226.03,260.17 226.59,263.67 227.16,263.22 227.72,262.05 228.29,262.14 228.85,261.87 229.41,261.55 229.98,261.61 230.54,262.37 231.11,262.06 231.67,262.07 232.24,261.32 232.80,263.08 233.36,263.16 233.93,222.74 234.49,243.78 235.06,261.80 235.62,262.43 236.19,262.41 236.75,262.22 237.31,263.03 237.88,263.65 238.44,264.22 239.01,264.37 239.57,264.13 240.14,265.23 240.70,264.58 241.26,265.06 241.83,264.35 242.39,264.01 242.96,264.79 243.52,264.70 244.09,264.86 244.65,264.54 245.21,264.79 245.78,265.31 246.34,265.39 246.91,265.55 247.47,265.64 248.04,265.96 248.60,266.84 249.16,266.69 249.73,266.80 250.29,266.96 250.86,267.10 251.42,266.82 251.99,266.48 252.55,266.28 253.11,267.44 253.68,266.47 254.24,267.07 254.81,266.66 255.37,266.84 255.94,266.54 256.50,267.03 257.06,266.60 257.63,266.72 258.19,267.11 258.76,266.34 259.32,266.53 259.89,266.83 260.45,266.01 261.01,266.30 261.58,265.47 262.14,266.06 262.71,265.91 263.27,265.43 263.84,265.20 264.40,265.14 264.96,265.81 265.53,265.27 266.09,266.26 266.66,265.28 267.22,266.16 267.79,265.01 268.35,265.39 268.91,265.73 269.48,264.75 270.04,264.94 270.61,264.93 271.17,264.71 271.74,264.75 272.30,264.77 272.86,264.73 273.43,264.21 273.99,263.06" stroke="#9acd32" stroke-width="0.85"/>
</g>
<rect x="172.5" y="219.5" width="108.0" height="71.0" fill="none" stroke="#a0a0a0" stroke-width="1"/>
<line x1="177.50" y1="290.5" x2="177.50" y2="291.9" stroke="#a0a0a0" stroke-width="0.5"/>
<text x="177.50" y="295.80" font-size="3.3" text-anchor="middle">0</text>
<line x1="191.61" y1="290.5" x2="191.61" y2="291.9" stroke="#a0a0a0" stroke-width="0.5"/>
<text x="191.61" y="295.80" font-size="3.3" text-anchor="middle">25</text>
<line x1="205.71" y1="290.5" x2="205.71" y2="291.9" stroke="#a0a0a0" stroke-width="0.5"/>
<text x="205.71" y="295.80" font-size="3.3" text-anchor="middle">50</text>
<line x1="219.82" y1="290.5" x2="219.82" y2="291.9" stroke="#a0a0a0" stroke-width="0.5"/>
<text x="219.82" y="295.80" font-size="3.3" text-anchor="middle">75</text>
<line x1="233.93" y1="290.5" x2="233.93" y2="291.9" stroke="#a0a0a0" stroke-width="0.5"/>
<text x="233.93" y="295.80" font-size="3.3" text-anchor="middle">100</text>
<line x1="248.04" y1="290.5" x2="248.04" y2="291.9" stroke="#a0a0a0" stroke-width="0.5"/>
<text x="248.04" y="295.80" font-size="3.3" text-anchor="middle">125</text>
<line x1="262.14" y1="290.5" x2="262.14" y2="291.9" stroke="#a0a0a0" stroke-width="0.5"/>
<text x="262.14" y="295.80" font-size="3.3" text-anchor="middle">150</text>
<line x1="276.25" y1="290.5" x2="276.25" y2="291.9" stroke="#a0a0a0" stroke-width="0.5"/>
<text x="276.25" y="295.80" font-size="3.3" text-anchor="middle">175</text>
<line x1="171.1" y1="275.50" x2="172.5" y2="275.50" stroke="#a0a0a0" stroke-width="0.5"/>
<text x="170.50" y="277.15" font-size="3.3" text-anchor="end">0.2</text>
<line x1="171.1" y1="260.17" x2="172.5" y2="260.17" stroke="#a0a0a0" stroke-width="0.5"/>
<text x="170.50" y="261.82" font-size="3.3" text-anchor="end">0.4</text>
<line x1="171.1" y1="244.83" x2="172.5" y2="244.83" stroke="#a0a0a0" stroke-width="0.5"/>
<text x="170.50" y="246.48" font-size="3.3" text-anchor="end">0.6</text>
<line x1="171.1" y1="229.50" x2="172.5" y2="229.50" stroke="#a0a0a0" stroke-width="0.5"/>
<text x="170.50" y="231.15" font-size="3.3" text-anchor="end">0.8</text>
<rect x="220.12" y="296.70" width="12.27" height="3.20" fill="#fff" stroke="none"/>
<text x="226.25" y="299.20" font-size="3.2" text-anchor="middle">Epochs</text>
<rect x="160.00" y="251.46" width="3.20" height="7.88" fill="#fff" stroke="none"/>
<text x="162.50" y="255.40" font-size="3.2" text-anchor="middle" transform="rotate(-90 162.50 255.40)">Loss</text>
<rect x="173.80" y="276.40" width="28.00" height="11.20" rx="0.6" fill="#fff" fill-opacity="0.45" stroke="#e9e9e9" stroke-width="0.5"/>
<line x1="175" y1="279.0" x2="182" y2="279.0" stroke="#1c1cdc" stroke-width="0.8"/>
<text x="184.5" y="280.19" font-size="3.3">Train</text>
<line x1="175" y1="285.0" x2="182" y2="285.0" stroke="#9acd32" stroke-width="0.8"/>
<text x="184.5" y="286.19" font-size="3.3">Validation</text>
<path d="M295.5 307.5V213.5" fill="none" stroke="#e3e3e3" stroke-width="1"/>
<path d="M295.5 213.5H422.5" fill="none" stroke="#e3e3e3" stroke-width="1"/>
<path d="M422.5 213.5V307.5H295.5" fill="none" stroke="#e3e3e3" stroke-width="1"/>
<path d="M423.5 214.5V308.5H296.5" fill="none" stroke="#f3f3f3" stroke-width="1"/>
<rect x="304.5" y="221.5" width="110.0" height="76.0" fill="none" stroke="#dcdcdc" stroke-width="0.8"/>
<clipPath id="c9"><rect x="313.25" y="224.5" width="102.75" height="66.75"/></clipPath>
<rect x="313.25" y="224.5" width="102.75" height="66.75" fill="#fff" stroke="none"/>
<g clip-path="url(#c9)" fill="none" stroke-linejoin="round">
<polyline points="318.25,288.25 318.53,279.38 319.00,263.34 319.56,256.66 320.58,250.59 322.17,244.51 324.59,239.04 326.92,234.18 328.97,231.75 332.52,231.75 335.59,231.15 336.90,229.93 341.94,228.72 349.95,227.80 354.62,227.50 411.50,227.50" stroke="#f3b23a" stroke-width="1.05"/>
<polyline points="318.25,288.25 411.50,227.50" stroke="#4040a6" stroke-width="0.7" stroke-dasharray="1.7,0.66"/>
</g>
<rect x="313.5" y="224.5" width="103.0" height="67.0" fill="none" stroke="#a0a0a0" stroke-width="1"/>
<line x1="318.25" y1="291.5" x2="318.25" y2="292.9" stroke="#a0a0a0" stroke-width="0.5"/>
<text x="318.25" y="296.80" font-size="3.3" text-anchor="middle">0.0</text>
<line x1="336.90" y1="291.5" x2="336.90" y2="292.9" stroke="#a0a0a0" stroke-width="0.5"/>
<text x="336.90" y="296.80" font-size="3.3" text-anchor="middle">0.2</text>
<line x1="355.55" y1="291.5" x2="355.55" y2="292.9" stroke="#a0a0a0" stroke-width="0.5"/>
<text x="355.55" y="296.80" font-size="3.3" text-anchor="middle">0.4</text>
<line x1="374.20" y1="291.5" x2="374.20" y2="292.9" stroke="#a0a0a0" stroke-width="0.5"/>
<text x="374.20" y="296.80" font-size="3.3" text-anchor="middle">0.6</text>
<line x1="392.85" y1="291.5" x2="392.85" y2="292.9" stroke="#a0a0a0" stroke-width="0.5"/>
<text x="392.85" y="296.80" font-size="3.3" text-anchor="middle">0.8</text>
<line x1="411.50" y1="291.5" x2="411.50" y2="292.9" stroke="#a0a0a0" stroke-width="0.5"/>
<text x="411.50" y="296.80" font-size="3.3" text-anchor="middle">1.0</text>
<line x1="312.1" y1="288.25" x2="313.5" y2="288.25" stroke="#a0a0a0" stroke-width="0.5"/>
<text x="311.50" y="289.90" font-size="3.3" text-anchor="end">0.0</text>
<line x1="312.1" y1="276.10" x2="313.5" y2="276.10" stroke="#a0a0a0" stroke-width="0.5"/>
<text x="311.50" y="277.75" font-size="3.3" text-anchor="end">0.2</text>
<line x1="312.1" y1="263.95" x2="313.5" y2="263.95" stroke="#a0a0a0" stroke-width="0.5"/>
<text x="311.50" y="265.60" font-size="3.3" text-anchor="end">0.4</text>
<line x1="312.1" y1="251.80" x2="313.5" y2="251.80" stroke="#a0a0a0" stroke-width="0.5"/>
<text x="311.50" y="253.45" font-size="3.3" text-anchor="end">0.6</text>
<line x1="312.1" y1="239.65" x2="313.5" y2="239.65" stroke="#a0a0a0" stroke-width="0.5"/>
<text x="311.50" y="241.30" font-size="3.3" text-anchor="end">0.8</text>
<line x1="312.1" y1="227.50" x2="313.5" y2="227.50" stroke="#a0a0a0" stroke-width="0.5"/>
<text x="311.50" y="229.15" font-size="3.3" text-anchor="end">1.0</text>
<rect x="350.42" y="297.48" width="28.40" height="2.97" fill="#fff" stroke="none"/>
<text x="364.62" y="299.80" font-size="2.97" text-anchor="middle">False Positive Rate</text>
<rect x="301.18" y="244.85" width="2.97" height="27.26" fill="#fff" stroke="none"/>
<text x="303.50" y="258.48" font-size="2.97" text-anchor="middle" transform="rotate(-90 303.50 258.48)">True Positive Rate</text>
<rect x="320.65" y="219.30" width="87.94" height="3.0" fill="#fff" stroke="none"/>
<text x="364.62" y="222.50" font-size="3.68" text-anchor="middle">Receiver Operating Characteristic (ROC) Curve</text>
<rect x="314.10" y="225.90" width="18.63" height="5.20" rx="0.6" fill="#fff" fill-opacity="0.45" stroke="#e9e9e9" stroke-width="0.5"/>
<line x1="315.3" y1="228.5" x2="322.3" y2="228.5" stroke="#f3b23a" stroke-width="0.8"/>
<text x="324.8" y="229.69" font-size="3.3">ROC</text>
<path d="M3.5 327.5H140.5" fill="none" stroke="#e3e3e3" stroke-width="1"/>
<path d="M140.5 327.5V421.5H3.5" fill="none" stroke="#e3e3e3" stroke-width="1"/>
<path d="M141.5 328.5V422.5H4.5" fill="none" stroke="#f3f3f3" stroke-width="1"/>
<rect x="11.5" y="335.5" width="120.0" height="77.0" fill="none" stroke="#dcdcdc" stroke-width="0.8"/>
<clipPath id="c10"><rect x="23.25" y="333.5" width="110.5" height="71.10000000000002"/></clipPath>
<rect x="23.25" y="333.5" width="110.5" height="71.10000000000002" fill="#fff" stroke="none"/>
<g clip-path="url(#c10)" fill="none" stroke-linejoin="round">
<polyline points="28.75,385.23 29.78,370.32 30.81,366.79 31.84,366.31 32.87,364.26 33.90,363.57 34.93,362.51 35.96,358.61 36.99,361.65 38.02,361.60 39.05,361.35 40.08,360.88 41.11,360.89 42.14,359.90 43.17,357.13 44.20,358.60 45.23,359.94 46.26,357.79 47.29,358.27 48.32,358.22 49.35,358.27 50.38,355.36 51.41,354.64 52.44,357.00 53.47,356.44 54.50,356.28 55.53,356.64 56.56,355.56 57.59,354.75 58.62,355.51 59.65,354.47 60.68,354.09 61.71,353.45 62.74,354.66 63.77,355.11 64.80,355.00 65.83,354.88 66.86,356.24 67.89,356.23 68.92,356.27 69.95,354.70 70.98,354.42 72.01,354.66 73.04,351.82 74.07,353.63 75.10,353.31 76.13,354.52 77.16,353.77 78.19,392.21 79.22,377.94 80.25,367.17 81.28,364.08 82.31,359.86 83.34,358.03 84.37,356.21 85.40,355.06 86.43,356.02 87.46,355.58 88.49,354.80 89.52,351.62 90.55,351.00 91.58,351.51 92.61,351.72 93.64,350.32 94.67,348.24 95.70,348.53 96.73,348.15 97.76,346.43 98.79,346.22 99.82,347.14 100.85,345.72 101.88,346.17 102.91,345.44 103.94,345.61 104.97,345.11 106.00,344.97 107.03,342.66 108.06,342.56 109.09,343.71 110.12,341.23 111.15,338.88 112.18,342.40 113.21,341.58 114.24,342.61 115.27,340.34 116.30,339.47 117.33,337.84 118.36,339.34 119.39,337.29 120.42,338.64 121.45,338.04 122.48,337.72 123.51,339.20 124.54,338.18 125.57,338.74 126.60,336.19 127.63,336.88" stroke="#1c1cdc" stroke-width="0.95"/>
<polyline points="28.75,379.71 29.78,377.86 30.81,375.27 31.84,374.35 32.87,374.04 33.90,372.54 34.93,373.20 35.96,367.53 36.99,372.38 38.02,370.73 39.05,371.96 40.08,365.33 41.11,374.60 42.14,367.72 43.17,372.61 44.20,375.02 45.23,371.55 46.26,366.77 47.29,370.93 48.32,367.25 49.35,364.00 50.38,366.17 51.41,372.99 52.44,367.17 53.47,369.64 54.50,368.67 55.53,371.22 56.56,367.73 57.59,366.27 58.62,369.58 59.65,371.90 60.68,371.24 61.71,363.77 62.74,368.38 63.77,369.50 64.80,365.59 65.83,369.24 66.86,368.16 67.89,369.79 68.92,365.97 69.95,366.59 70.98,362.90 72.01,366.59 73.04,367.54 74.07,369.45 75.10,366.55 76.13,370.89 77.16,370.33 78.19,400.55 79.22,389.30 80.25,377.62 81.28,370.57 82.31,369.96 83.34,371.92 84.37,367.71 85.40,364.72 86.43,364.68 87.46,363.46 88.49,361.44 89.52,363.27 90.55,363.78 91.58,363.67 92.61,363.78 93.64,359.31 94.67,367.26 95.70,357.82 96.73,362.21 97.76,357.99 98.79,357.16 99.82,360.54 100.85,357.31 101.88,354.19 102.91,357.77 103.94,353.77 104.97,358.92 106.00,357.28 107.03,353.74 108.06,358.34 109.09,358.25 110.12,353.44 111.15,354.73 112.18,351.20 113.21,357.37 114.24,353.85 115.27,351.93 116.30,353.05 117.33,352.52 118.36,355.08 119.39,353.06 120.42,355.00 121.45,354.63 122.48,351.35 123.51,356.73 124.54,353.85 125.57,353.19 126.60,353.27 127.63,357.52" stroke="#9acd32" stroke-width="0.85"/>
</g>
<rect x="23.5" y="333.5" width="110.0" height="71.0" fill="none" stroke="#a0a0a0" stroke-width="1"/>
<line x1="28.75" y1="404.5" x2="28.75" y2="405.9" stroke="#a0a0a0" stroke-width="0.5"/>
<text x="28.75" y="409.80" font-size="3.3" text-anchor="middle">0</text>
<line x1="49.35" y1="404.5" x2="49.35" y2="405.9" stroke="#a0a0a0" stroke-width="0.5"/>
<text x="49.35" y="409.80" font-size="3.3" text-anchor="middle">20</text>
<line x1="69.95" y1="404.5" x2="69.95" y2="405.9" stroke="#a0a0a0" stroke-width="0.5"/>
<text x="69.95" y="409.80" font-size="3.3" text-anchor="middle">40</text>
<line x1="90.55" y1="404.5" x2="90.55" y2="405.9" stroke="#a0a0a0" stroke-width="0.5"/>
<text x="90.55" y="409.80" font-size="3.3" text-anchor="middle">60</text>
<line x1="111.15" y1="404.5" x2="111.15" y2="405.9" stroke="#a0a0a0" stroke-width="0.5"/>
<text x="111.15" y="409.80" font-size="3.3" text-anchor="middle">80</text>
<line x1="131.75" y1="404.5" x2="131.75" y2="405.9" stroke="#a0a0a0" stroke-width="0.5"/>
<text x="131.75" y="409.80" font-size="3.3" text-anchor="middle">100</text>
<line x1="22.1" y1="403.00" x2="23.5" y2="403.00" stroke="#a0a0a0" stroke-width="0.5"/>
<text x="21.50" y="404.65" font-size="3.3" text-anchor="end">0.75</text>
<line x1="22.1" y1="387.56" x2="23.5" y2="387.56" stroke="#a0a0a0" stroke-width="0.5"/>
<text x="21.50" y="389.21" font-size="3.3" text-anchor="end">0.80</text>
<line x1="22.1" y1="372.12" x2="23.5" y2="372.12" stroke="#a0a0a0" stroke-width="0.5"/>
<text x="21.50" y="373.77" font-size="3.3" text-anchor="end">0.85</text>
<line x1="22.1" y1="356.69" x2="23.5" y2="356.69" stroke="#a0a0a0" stroke-width="0.5"/>
<text x="21.50" y="358.34" font-size="3.3" text-anchor="end">0.90</text>
<line x1="22.1" y1="341.25" x2="23.5" y2="341.25" stroke="#a0a0a0" stroke-width="0.5"/>
<text x="21.50" y="342.90" font-size="3.3" text-anchor="end">0.95</text>
<rect x="72.37" y="411.30" width="12.27" height="3.20" fill="#fff" stroke="none"/>
<text x="78.50" y="413.80" font-size="3.2" text-anchor="middle">Epochs</text>
<rect x="9.00" y="361.95" width="3.20" height="15.41" fill="#fff" stroke="none"/>
<text x="11.50" y="369.65" font-size="3.2" text-anchor="middle" transform="rotate(-90 11.50 369.65)">Accuracy</text>
<rect x="24.90" y="392.50" width="28.00" height="10.00" rx="0.6" fill="#fff" fill-opacity="0.45" stroke="#e9e9e9" stroke-width="0.5"/>
<line x1="26.1" y1="395.1" x2="33.1" y2="395.1" stroke="#1c1cdc" stroke-width="0.8"/>
<text x="35.6" y="396.29" font-size="3.3">Train</text>
<line x1="26.1" y1="399.90000000000003" x2="33.1" y2="399.90000000000003" stroke="#9acd32" stroke-width="0.8"/>
<text x="35.6" y="401.09" font-size="3.3">Validation</text>
<path d="M153.5 421.5V325.5" fill="none" stroke="#e3e3e3" stroke-width="1"/>
<path d="M290.5 325.5V421.5H153.5" fill="none" stroke="#e3e3e3" stroke-width="1"/>
<path d="M291.5 326.5V422.5H154.5" fill="none" stroke="#f3f3f3" stroke-width="1"/>
<rect x="161.5" y="335.5" width="119.0" height="78.0" fill="none" stroke="#dcdcdc" stroke-width="0.8"/>
<clipPath id="c11"><rect x="172.5" y="333.5" width="110.0" height="71.0"/></clipPath>
<rect x="172.5" y="333.5" width="110.0" height="71.0" fill="#fff" stroke="none"/>
<g clip-path="url(#c11)" fill="none" stroke-linejoin="round">
<polyline points="177.00,368.87 178.03,375.62 179.07,377.56 180.10,379.28 181.14,380.50 182.18,380.82 183.21,381.39 184.25,381.91 185.28,383.04 186.31,382.85 187.35,383.38 188.38,384.10 189.42,384.25 190.46,384.40 191.49,384.50 192.53,384.76 193.56,385.36 194.59,385.26 195.63,385.48 196.66,385.26 197.70,385.52 198.74,386.22 199.77,386.30 200.81,386.45 201.84,386.85 202.88,386.76 203.91,387.60 204.94,387.01 205.98,387.35 207.01,388.07 208.05,387.76 209.09,388.02 210.12,387.50 211.16,387.82 212.19,388.48 213.22,388.40 214.26,388.13 215.30,387.96 216.33,388.24 217.37,388.59 218.40,388.26 219.44,388.42 220.47,389.14 221.50,389.12 222.54,388.95 223.57,389.40 224.61,390.32 225.65,389.18 226.68,359.04 227.72,370.89 228.75,379.01 229.78,381.23 230.82,383.53 231.85,384.63 232.89,385.52 233.93,386.42 234.96,387.53 236.00,387.53 237.03,388.33 238.06,389.08 239.10,389.71 240.13,389.79 241.17,390.67 242.20,390.77 243.24,391.39 244.28,391.07 245.31,392.77 246.34,392.33 247.38,393.19 248.42,393.51 249.45,393.44 250.49,393.22 251.52,394.23 252.56,395.16 253.59,395.18 254.62,395.75 255.66,396.53 256.69,396.29 257.73,396.95 258.76,396.38 259.80,397.41 260.83,397.80 261.87,397.19 262.90,397.89 263.94,398.50 264.98,398.95 266.01,398.56 267.05,398.57 268.08,398.54 269.12,398.66 270.15,399.10 271.19,399.52 272.22,399.29 273.25,399.39 274.29,400.22 275.32,400.23 276.36,400.58" stroke="#1c1cdc" stroke-width="0.95"/>
<polyline points="177.00,371.42 178.03,374.40 179.07,373.33 180.10,374.87 181.14,373.25 182.18,372.93 183.21,372.96 184.25,374.47 185.28,371.77 186.31,375.38 187.35,372.77 188.38,371.49 189.42,372.96 190.46,374.19 191.49,374.22 192.53,374.14 193.56,371.45 194.59,370.66 195.63,373.68 196.66,374.17 197.70,375.23 198.74,376.41 199.77,375.32 200.81,378.95 201.84,376.35 202.88,373.81 203.91,372.70 204.94,378.58 205.98,376.05 207.01,372.84 208.05,375.45 209.09,375.79 210.12,374.72 211.16,379.71 212.19,376.20 213.22,372.62 214.26,377.48 215.30,372.52 216.33,375.95 217.37,375.45 218.40,376.10 219.44,375.60 220.47,376.99 221.50,380.52 222.54,373.25 223.57,377.45 224.61,374.82 225.65,371.32 226.68,334.81 227.72,357.64 228.75,377.93 229.78,378.04 230.82,376.93 231.85,376.78 232.89,380.09 233.93,381.86 234.96,381.11 236.00,381.61 237.03,382.74 238.06,385.15 239.10,381.80 240.13,383.37 241.17,379.61 242.20,381.44 243.24,380.33 244.28,383.45 245.31,381.08 246.34,382.86 247.38,382.13 248.42,384.63 249.45,380.54 250.49,380.07 251.52,379.49 252.56,380.50 253.59,381.87 254.62,383.26 255.66,384.06 256.69,383.20 257.73,385.01 258.76,384.99 259.80,381.53 260.83,384.50 261.87,380.51 262.90,385.11 263.94,382.96 264.98,383.54 266.01,383.24 267.05,383.08 268.08,384.19 269.12,385.14 270.15,386.33 271.19,383.51 272.22,381.62 273.25,384.83 274.29,384.13 275.32,383.18 276.36,379.08" stroke="#9acd32" stroke-width="0.85"/>
</g>
<rect x="172.5" y="333.5" width="110.0" height="71.0" fill="none" stroke="#a0a0a0" stroke-width="1"/>
<line x1="177.00" y1="404.5" x2="177.00" y2="405.9" stroke="#a0a0a0" stroke-width="0.5"/>
<text x="177.00" y="409.80" font-size="3.3" text-anchor="middle">0</text>
<line x1="197.70" y1="404.5" x2="197.70" y2="405.9" stroke="#a0a0a0" stroke-width="0.5"/>
<text x="197.70" y="409.80" font-size="3.3" text-anchor="middle">20</text>
<line x1="218.40" y1="404.5" x2="218.40" y2="405.9" stroke="#a0a0a0" stroke-width="0.5"/>
<text x="218.40" y="409.80" font-size="3.3" text-anchor="middle">40</text>
<line x1="239.10" y1="404.5" x2="239.10" y2="405.9" stroke="#a0a0a0" stroke-width="0.5"/>
<text x="239.10" y="409.80" font-size="3.3" text-anchor="middle">60</text>
<line x1="259.80" y1="404.5" x2="259.80" y2="405.9" stroke="#a0a0a0" stroke-width="0.5"/>
<text x="259.80" y="409.80" font-size="3.3" text-anchor="middle">80</text>
<line x1="280.50" y1="404.5" x2="280.50" y2="405.9" stroke="#a0a0a0" stroke-width="0.5"/>
<text x="280.50" y="409.80" font-size="3.3" text-anchor="middle">100</text>
<line x1="171.1" y1="402.00" x2="172.5" y2="402.00" stroke="#a0a0a0" stroke-width="0.5"/>
<text x="170.50" y="403.65" font-size="3.3" text-anchor="end">0.1</text>
<line x1="171.1" y1="391.04" x2="172.5" y2="391.04" stroke="#a0a0a0" stroke-width="0.5"/>
<text x="170.50" y="392.69" font-size="3.3" text-anchor="end">0.2</text>
<line x1="171.1" y1="380.08" x2="172.5" y2="380.08" stroke="#a0a0a0" stroke-width="0.5"/>
<text x="170.50" y="381.73" font-size="3.3" text-anchor="end">0.3</text>
<line x1="171.1" y1="369.12" x2="172.5" y2="369.12" stroke="#a0a0a0" stroke-width="0.5"/>
<text x="170.50" y="370.77" font-size="3.3" text-anchor="end">0.4</text>
<line x1="171.1" y1="358.17" x2="172.5" y2="358.17" stroke="#a0a0a0" stroke-width="0.5"/>
<text x="170.50" y="359.82" font-size="3.3" text-anchor="end">0.5</text>
<line x1="171.1" y1="347.21" x2="172.5" y2="347.21" stroke="#a0a0a0" stroke-width="0.5"/>
<text x="170.50" y="348.86" font-size="3.3" text-anchor="end">0.6</text>
<line x1="171.1" y1="336.25" x2="172.5" y2="336.25" stroke="#a0a0a0" stroke-width="0.5"/>
<text x="170.50" y="337.90" font-size="3.3" text-anchor="end">0.7</text>
<rect x="221.37" y="411.30" width="12.27" height="3.20" fill="#fff" stroke="none"/>
<text x="227.50" y="413.80" font-size="3.2" text-anchor="middle">Epochs</text>
<rect x="160.00" y="365.66" width="3.20" height="7.88" fill="#fff" stroke="none"/>
<text x="162.50" y="369.60" font-size="3.2" text-anchor="middle" transform="rotate(-90 162.50 369.60)">Loss</text>
<rect x="173.80" y="391.40" width="28.00" height="11.20" rx="0.6" fill="#fff" fill-opacity="0.45" stroke="#e9e9e9" stroke-width="0.5"/>
<line x1="175" y1="394.0" x2="182" y2="394.0" stroke="#1c1cdc" stroke-width="0.8"/>
<text x="184.5" y="395.19" font-size="3.3">Train</text>
<line x1="175" y1="400.0" x2="182" y2="400.0" stroke="#9acd32" stroke-width="0.8"/>
<text x="184.5" y="401.19" font-size="3.3">Validation</text>
<path d="M299.5 421.5V326.5" fill="none" stroke="#e3e3e3" stroke-width="1"/>
<path d="M429.5 326.5V421.5H299.5" fill="none" stroke="#e3e3e3" stroke-width="1"/>
<path d="M430.5 327.5V422.5H300.5" fill="none" stroke="#f3f3f3" stroke-width="1"/>
<rect x="307.5" y="335.5" width="115.0" height="78.0" fill="none" stroke="#dcdcdc" stroke-width="0.8"/>
<clipPath id="c12"><rect x="317.5" y="337" width="106.5" height="69.25"/></clipPath>
<rect x="317.5" y="337" width="106.5" height="69.25" fill="#fff" stroke="none"/>
<g clip-path="url(#c12)" fill="none" stroke-linejoin="round">
<polyline points="322.00,403.00 322.29,387.25 322.97,374.65 323.94,365.20 325.88,358.27 327.63,352.60 329.27,348.19 331.70,345.67 337.04,343.15 342.08,341.89 349.55,340.94 354.59,340.31 365.65,340.00 419.00,340.00" stroke="#f3b23a" stroke-width="1.05"/>
<polyline points="322.00,403.00 419.00,340.00" stroke="#4040a6" stroke-width="0.7" stroke-dasharray="1.7,0.66"/>
</g>
<rect x="317.5" y="337.5" width="107.0" height="69.0" fill="none" stroke="#a0a0a0" stroke-width="1"/>
<line x1="322.00" y1="406.5" x2="322.00" y2="407.9" stroke="#a0a0a0" stroke-width="0.5"/>
<text x="322.00" y="411.80" font-size="3.3" text-anchor="middle">0.0</text>
<line x1="341.40" y1="406.5" x2="341.40" y2="407.9" stroke="#a0a0a0" stroke-width="0.5"/>
<text x="341.40" y="411.80" font-size="3.3" text-anchor="middle">0.2</text>
<line x1="360.80" y1="406.5" x2="360.80" y2="407.9" stroke="#a0a0a0" stroke-width="0.5"/>
<text x="360.80" y="411.80" font-size="3.3" text-anchor="middle">0.4</text>
<line x1="380.20" y1="406.5" x2="380.20" y2="407.9" stroke="#a0a0a0" stroke-width="0.5"/>
<text x="380.20" y="411.80" font-size="3.3" text-anchor="middle">0.6</text>
<line x1="399.60" y1="406.5" x2="399.60" y2="407.9" stroke="#a0a0a0" stroke-width="0.5"/>
<text x="399.60" y="411.80" font-size="3.3" text-anchor="middle">0.8</text>
<line x1="419.00" y1="406.5" x2="419.00" y2="407.9" stroke="#a0a0a0" stroke-width="0.5"/>
<text x="419.00" y="411.80" font-size="3.3" text-anchor="middle">1.0</text>
<line x1="316.1" y1="403.00" x2="317.5" y2="403.00" stroke="#a0a0a0" stroke-width="0.5"/>
<text x="315.50" y="404.65" font-size="3.3" text-anchor="end">0.0</text>
<line x1="316.1" y1="390.40" x2="317.5" y2="390.40" stroke="#a0a0a0" stroke-width="0.5"/>
<text x="315.50" y="392.05" font-size="3.3" text-anchor="end">0.2</text>
<line x1="316.1" y1="377.80" x2="317.5" y2="377.80" stroke="#a0a0a0" stroke-width="0.5"/>
<text x="315.50" y="379.45" font-size="3.3" text-anchor="end">0.4</text>
<line x1="316.1" y1="365.20" x2="317.5" y2="365.20" stroke="#a0a0a0" stroke-width="0.5"/>
<text x="315.50" y="366.85" font-size="3.3" text-anchor="end">0.6</text>
<line x1="316.1" y1="352.60" x2="317.5" y2="352.60" stroke="#a0a0a0" stroke-width="0.5"/>
<text x="315.50" y="354.25" font-size="3.3" text-anchor="end">0.8</text>
<line x1="316.1" y1="340.00" x2="317.5" y2="340.00" stroke="#a0a0a0" stroke-width="0.5"/>
<text x="315.50" y="341.65" font-size="3.3" text-anchor="end">1.0</text>
<rect x="356.55" y="412.68" width="28.40" height="2.97" fill="#fff" stroke="none"/>
<text x="370.75" y="415.00" font-size="2.97" text-anchor="middle">False Positive Rate</text>
<rect x="305.78" y="358.60" width="2.97" height="27.26" fill="#fff" stroke="none"/>
<text x="308.10" y="372.23" font-size="2.97" text-anchor="middle" transform="rotate(-90 308.10 372.23)">True Positive Rate</text>
<rect x="324.90" y="331.90" width="91.70" height="3.0" fill="#fff" stroke="none"/>
<text x="370.75" y="335.10" font-size="3.84" text-anchor="middle">Receiver Operating Characteristic (ROC) Curve</text>
<rect x="403.55" y="398.65" width="18.63" height="5.20" rx="0.6" fill="#fff" fill-opacity="0.45" stroke="#e9e9e9" stroke-width="0.5"/>
<line x1="404.75" y1="401.25" x2="411.75" y2="401.25" stroke="#f3b23a" stroke-width="0.8"/>
<text x="414.25" y="402.44" font-size="3.3">ROC</text>
<path d="M3.5 435.5H141.5" fill="none" stroke="#e3e3e3" stroke-width="1"/>
<path d="M141.5 435.5V532.5H3.5" fill="none" stroke="#e3e3e3" stroke-width="1"/>
<path d="M142.5 436.5V533.5H4.5" fill="none" stroke="#f3f3f3" stroke-width="1"/>
<rect x="10.5" y="443.5" width="123.0" height="81.0" fill="none" stroke="#dcdcdc" stroke-width="0.8"/>
<clipPath id="c13"><rect x="21.2" y="442" width="114.3" height="74.20000000000005"/></clipPath>
<rect x="21.2" y="442" width="114.3" height="74.20000000000005" fill="#fff" stroke="none"/>
<g clip-path="url(#c13)" fill="none" stroke-linejoin="round">
<polyline points="26.85,461.57 27.49,456.50 28.12,455.58 28.76,454.94 29.39,454.36 30.03,454.31 30.67,453.83 31.30,453.57 31.94,453.82 32.57,453.68 33.21,453.52 33.85,453.49 34.48,453.36 35.12,453.14 35.75,453.21 36.39,452.77 37.03,453.03 37.66,452.63 38.30,452.58 38.93,452.67 39.57,453.06 40.20,452.93 40.84,452.71 41.48,452.86 42.11,452.36 42.75,452.82 43.38,452.43 44.02,452.51 44.66,452.21 45.29,452.60 45.93,452.15 46.56,452.25 47.20,452.36 47.84,452.10 48.47,451.95 49.11,452.28 49.74,452.20 50.38,452.44 51.02,452.20 51.65,452.21 52.29,452.00 52.92,451.99 53.56,452.06 54.20,452.09 54.83,451.79 55.47,451.92 56.10,451.64 56.74,451.74 57.38,452.04 58.01,452.01 58.65,451.76 59.28,451.97 59.92,451.77 60.55,451.71 61.19,451.68 61.83,451.66 62.46,451.84 63.10,451.94 63.73,452.03 64.37,451.71 65.01,451.35 65.64,451.98 66.28,451.40 66.91,451.94 67.55,451.82 68.19,451.68 68.82,451.34 69.46,451.73 70.09,451.41 70.73,451.35 71.37,451.33 72.00,451.51 72.64,451.42 73.27,451.39 73.91,451.33 74.55,451.46 75.18,451.51 75.82,451.92 76.45,451.63 77.09,451.46 77.72,451.25 78.36,451.05 79.00,451.52 79.63,451.58 80.27,451.75 80.90,451.31 81.54,451.79 82.18,451.75 82.81,451.66 83.45,451.76 84.08,451.30 84.72,451.52 85.36,451.72 85.99,451.46 86.63,451.79 87.26,451.48 87.90,451.56 88.54,451.92 89.17,455.69 89.81,455.36 90.44,454.81 91.08,454.08 91.72,453.69 92.35,453.05 92.99,452.13 93.62,451.85 94.26,451.79 94.90,451.40 95.53,451.31 96.17,451.07 96.80,450.72 97.44,450.80 98.07,450.53 98.71,450.12 99.35,450.01 99.98,449.62 100.62,449.62 101.25,449.51 101.89,448.89 102.53,448.96 103.16,448.73 103.80,448.77 104.43,448.45 105.07,448.17 105.71,448.23 106.34,447.90 106.98,447.95 107.61,447.81 108.25,447.76 108.89,447.30 109.52,447.48 110.16,447.54 110.79,447.16 111.43,447.37 112.07,447.06 112.70,447.28 113.34,447.09 113.97,446.76 114.61,446.57 115.25,446.55 115.88,446.49 116.52,446.42 117.15,446.49 117.79,446.27 118.43,446.13 119.06,445.82 119.70,445.87 120.33,446.13 120.97,445.76 121.60,445.81 122.24,445.79 122.88,445.54 123.51,445.42 124.15,445.38 124.78,445.58 125.42,445.45 126.06,445.30 126.69,445.15 127.33,445.31 127.96,445.21 128.60,445.29 129.24,445.25 129.87,444.90" stroke="#1c1cdc" stroke-width="0.95"/>
<polyline points="26.85,458.18 27.49,457.15 28.12,455.92 28.76,454.85 29.39,454.35 30.03,454.18 30.67,453.74 31.30,453.49 31.94,453.51 32.57,453.64 33.21,453.56 33.85,453.39 34.48,453.58 35.12,453.41 35.75,453.17 36.39,453.21 37.03,452.95 37.66,453.26 38.30,453.31 38.93,453.29 39.57,453.18 40.20,453.20 40.84,452.90 41.48,453.22 42.11,453.16 42.75,453.06 43.38,453.18 44.02,453.09 44.66,453.11 45.29,453.06 45.93,453.33 46.56,453.05 47.20,453.17 47.84,453.12 48.47,453.19 49.11,452.94 49.74,453.39 50.38,452.97 51.02,453.22 51.65,452.95 52.29,452.98 52.92,453.00 53.56,453.02 54.20,452.85 54.83,453.19 55.47,453.19 56.10,453.20 56.74,453.00 57.38,453.27 58.01,452.98 58.65,453.14 59.28,453.23 59.92,453.23 60.55,453.20 61.19,453.28 61.83,453.03 62.46,452.99 63.10,452.97 63.73,453.16 64.37,453.05 65.01,453.08 65.64,452.99 66.28,453.02 66.91,453.06 67.55,453.30 68.19,453.09 68.82,453.05 69.46,453.15 70.09,453.09 70.73,453.22 71.37,453.10 72.00,452.99 72.64,452.80 73.27,453.17 73.91,453.05 74.55,453.16 75.18,453.05 75.82,453.07 76.45,452.93 77.09,452.92 77.72,453.01 78.36,453.04 79.00,452.88 79.63,453.00 80.27,452.84 80.90,453.22 81.54,452.80 82.18,453.09 82.81,453.14 83.45,453.01 84.08,453.15 84.72,452.94 85.36,453.06 85.99,452.96 86.63,453.12 87.26,453.02 87.90,452.98 88.54,453.01 89.17,512.08 89.81,454.96 90.44,454.12 91.08,453.56 91.72,453.31 92.35,453.10 92.99,452.51 93.62,452.45 94.26,452.23 94.90,451.98 95.53,452.00 96.17,451.78 96.80,451.74 97.44,451.42 98.07,451.44 98.71,451.18 99.35,451.04 99.98,451.09 100.62,450.92 101.25,451.06 101.89,450.98 102.53,450.77 103.16,450.74 103.80,450.80 104.43,450.63 105.07,450.39 105.71,450.55 106.34,450.47 106.98,450.51 107.61,450.44 108.25,450.42 108.89,450.39 109.52,450.39 110.16,450.35 110.79,450.38 111.43,450.40 112.07,450.47 112.70,450.72 113.34,450.44 113.97,450.48 114.61,450.46 115.25,450.56 115.88,450.30 116.52,450.56 117.15,450.32 117.79,450.38 118.43,450.31 119.06,450.25 119.70,450.12 120.33,450.17 120.97,450.19 121.60,450.13 122.24,450.26 122.88,450.24 123.51,450.28 124.15,450.19 124.78,450.09 125.42,450.19 126.06,450.17 126.69,450.22 127.33,449.98 127.96,450.13 128.60,450.06 129.24,450.12 129.87,450.04" stroke="#9acd32" stroke-width="0.85"/>
</g>
<rect x="21.5" y="442.5" width="114.0" height="74.0" fill="none" stroke="#a0a0a0" stroke-width="1"/>
<line x1="26.85" y1="516.5" x2="26.85" y2="517.9" stroke="#a0a0a0" stroke-width="0.5"/>
<text x="26.85" y="521.80" font-size="3.3" text-anchor="middle">0</text>
<line x1="39.57" y1="516.5" x2="39.57" y2="517.9" stroke="#a0a0a0" stroke-width="0.5"/>
<text x="39.57" y="521.80" font-size="3.3" text-anchor="middle">20</text>
<line x1="52.29" y1="516.5" x2="52.29" y2="517.9" stroke="#a0a0a0" stroke-width="0.5"/>
<text x="52.29" y="521.80" font-size="3.3" text-anchor="middle">40</text>
<line x1="65.01" y1="516.5" x2="65.01" y2="517.9" stroke="#a0a0a0" stroke-width="0.5"/>
<text x="65.01" y="521.80" font-size="3.3" text-anchor="middle">60</text>
<line x1="77.72" y1="516.5" x2="77.72" y2="517.9" stroke="#a0a0a0" stroke-width="0.5"/>
<text x="77.72" y="521.80" font-size="3.3" text-anchor="middle">80</text>
<line x1="90.44" y1="516.5" x2="90.44" y2="517.9" stroke="#a0a0a0" stroke-width="0.5"/>
<text x="90.44" y="521.80" font-size="3.3" text-anchor="middle">100</text>
<line x1="103.16" y1="516.5" x2="103.16" y2="517.9" stroke="#a0a0a0" stroke-width="0.5"/>
<text x="103.16" y="521.80" font-size="3.3" text-anchor="middle">120</text>
<line x1="115.88" y1="516.5" x2="115.88" y2="517.9" stroke="#a0a0a0" stroke-width="0.5"/>
<text x="115.88" y="521.80" font-size="3.3" text-anchor="middle">140</text>
<line x1="128.60" y1="516.5" x2="128.60" y2="517.9" stroke="#a0a0a0" stroke-width="0.5"/>
<text x="128.60" y="521.80" font-size="3.3" text-anchor="middle">160</text>
<line x1="20.1" y1="512.00" x2="21.5" y2="512.00" stroke="#a0a0a0" stroke-width="0.5"/>
<text x="19.50" y="513.65" font-size="3.3" text-anchor="end">0.0</text>
<line x1="20.1" y1="498.45" x2="21.5" y2="498.45" stroke="#a0a0a0" stroke-width="0.5"/>
<text x="19.50" y="500.10" font-size="3.3" text-anchor="end">0.2</text>
<line x1="20.1" y1="484.90" x2="21.5" y2="484.90" stroke="#a0a0a0" stroke-width="0.5"/>
<text x="19.50" y="486.55" font-size="3.3" text-anchor="end">0.4</text>
<line x1="20.1" y1="471.35" x2="21.5" y2="471.35" stroke="#a0a0a0" stroke-width="0.5"/>
<text x="19.50" y="473.00" font-size="3.3" text-anchor="end">0.6</text>
<line x1="20.1" y1="457.80" x2="21.5" y2="457.80" stroke="#a0a0a0" stroke-width="0.5"/>
<text x="19.50" y="459.45" font-size="3.3" text-anchor="end">0.8</text>
<line x1="20.1" y1="444.25" x2="21.5" y2="444.25" stroke="#a0a0a0" stroke-width="0.5"/>
<text x="19.50" y="445.90" font-size="3.3" text-anchor="end">1.0</text>
<rect x="72.22" y="523.20" width="12.27" height="3.20" fill="#fff" stroke="none"/>
<text x="78.35" y="525.70" font-size="3.2" text-anchor="middle">Epochs</text>
<rect x="8.00" y="472.00" width="3.20" height="15.41" fill="#fff" stroke="none"/>
<text x="10.50" y="479.70" font-size="3.2" text-anchor="middle" transform="rotate(-90 10.50 479.70)">Accuracy</text>
<rect x="23.10" y="503.40" width="28.00" height="10.20" rx="0.6" fill="#fff" fill-opacity="0.45" stroke="#e9e9e9" stroke-width="0.5"/>
<line x1="24.3" y1="506.0" x2="31.3" y2="506.0" stroke="#1c1cdc" stroke-width="0.8"/>
<text x="33.8" y="507.19" font-size="3.3">Train</text>
<line x1="24.3" y1="511.0" x2="31.3" y2="511.0" stroke="#9acd32" stroke-width="0.8"/>
<text x="33.8" y="512.19" font-size="3.3">Validation</text>
<path d="M151.5 532.5V435.5" fill="none" stroke="#e3e3e3" stroke-width="1"/>
<path d="M151.5 435.5H291.5" fill="none" stroke="#e3e3e3" stroke-width="1"/>
<path d="M291.5 435.5V532.5H151.5" fill="none" stroke="#e3e3e3" stroke-width="1"/>
<path d="M292.5 436.5V533.5H152.5" fill="none" stroke="#f3f3f3" stroke-width="1"/>
<rect x="160.5" y="443.5" width="122.0" height="81.0" fill="none" stroke="#dcdcdc" stroke-width="0.8"/>
<clipPath id="c14"><rect x="171.3" y="442" width="113.69999999999999" height="73.20000000000005"/></clipPath>
<rect x="171.3" y="442" width="113.69999999999999" height="73.20000000000005" fill="#fff" stroke="none"/>
<g clip-path="url(#c14)" fill="none" stroke-linejoin="round">
<polyline points="176.25,444.68 176.89,454.99 177.52,461.51 178.16,465.25 178.79,466.68 179.43,468.20 180.07,468.17 180.70,468.91 181.34,468.76 181.97,468.87 182.61,469.54 183.25,469.72 183.88,470.62 184.52,470.04 185.15,471.26 185.79,471.06 186.43,471.51 187.06,471.39 187.70,471.71 188.33,472.47 188.97,472.28 189.60,472.73 190.24,472.61 190.88,472.41 191.51,473.26 192.15,472.23 192.78,473.19 193.42,472.91 194.06,472.43 194.69,473.97 195.33,473.62 195.96,473.65 196.60,473.98 197.24,473.32 197.87,473.89 198.51,473.44 199.14,474.19 199.78,473.88 200.42,474.20 201.05,474.21 201.69,474.00 202.32,473.89 202.96,474.45 203.60,474.47 204.23,474.43 204.87,474.26 205.50,474.76 206.14,474.40 206.78,473.95 207.41,474.94 208.05,474.61 208.68,473.94 209.32,474.89 209.95,475.08 210.59,474.72 211.23,474.90 211.86,474.66 212.50,475.63 213.13,475.07 213.77,475.10 214.41,475.23 215.04,475.51 215.68,475.22 216.31,474.90 216.95,475.36 217.59,475.38 218.22,475.35 218.86,475.63 219.49,475.84 220.13,475.53 220.77,475.15 221.40,475.51 222.04,475.89 222.67,475.42 223.31,475.57 223.95,475.51 224.58,476.71 225.22,475.99 225.85,475.45 226.49,475.53 227.12,476.25 227.76,476.44 228.40,476.53 229.03,476.24 229.67,476.26 230.30,476.07 230.94,476.30 231.58,476.47 232.21,476.32 232.85,476.30 233.48,476.41 234.12,476.76 234.76,476.30 235.39,476.44 236.03,476.35 236.66,476.61 237.30,476.01 237.94,476.09 238.57,449.81 239.21,459.87 239.84,470.49 240.48,472.53 241.12,473.09 241.75,474.73 242.39,476.00 243.02,477.58 243.66,478.66 244.30,479.39 244.93,481.15 245.57,481.53 246.20,481.56 246.84,483.48 247.47,484.29 248.11,484.50 248.75,485.58 249.38,486.31 250.02,486.04 250.65,488.26 251.29,488.26 251.93,489.09 252.56,490.32 253.20,490.58 253.83,490.78 254.47,492.22 255.11,492.04 255.74,492.49 256.38,492.19 257.01,492.93 257.65,493.49 258.29,493.88 258.92,494.46 259.56,494.85 260.19,494.95 260.83,495.86 261.47,496.48 262.10,496.24 262.74,496.13 263.37,497.11 264.01,498.42 264.65,497.04 265.28,497.62 265.92,498.14 266.55,498.32 267.19,498.32 267.82,498.24 268.46,499.34 269.10,499.41 269.73,498.57 270.37,499.34 271.00,500.52 271.64,500.86 272.28,499.15 272.91,501.41 273.55,500.29 274.18,501.22 274.82,500.91 275.46,500.75 276.09,502.67 276.73,502.07 277.36,501.61 278.00,502.17 278.64,501.92" stroke="#1c1cdc" stroke-width="0.95"/>
<polyline points="176.25,458.65 176.89,460.04 177.52,462.76 178.16,463.96 178.79,465.74 179.43,465.11 180.07,467.49 180.70,466.83 181.34,466.29 181.97,468.21 182.61,468.95 183.25,467.88 183.88,469.19 184.52,469.43 185.15,468.93 185.79,468.98 186.43,469.25 187.06,469.82 187.70,470.80 188.33,470.25 188.97,471.29 189.60,470.18 190.24,470.14 190.88,470.35 191.51,470.93 192.15,470.04 192.78,466.29 193.42,471.77 194.06,471.52 194.69,470.51 195.33,468.27 195.96,471.34 196.60,470.97 197.24,471.38 197.87,470.62 198.51,470.94 199.14,470.94 199.78,471.62 200.42,472.05 201.05,470.93 201.69,470.94 202.32,471.75 202.96,471.10 203.60,466.95 204.23,471.65 204.87,468.94 205.50,470.29 206.14,470.93 206.78,471.97 207.41,471.15 208.05,467.21 208.68,471.32 209.32,471.45 209.95,471.65 210.59,472.74 211.23,472.16 211.86,468.27 212.50,471.51 213.13,471.56 213.77,468.94 214.41,472.87 215.04,471.96 215.68,471.20 216.31,473.25 216.95,471.60 217.59,470.64 218.22,467.88 218.86,471.77 219.49,471.44 220.13,471.97 220.77,471.42 221.40,473.16 222.04,468.94 222.67,470.83 223.31,470.94 223.95,471.26 224.58,471.45 225.22,472.46 225.85,472.09 226.49,471.45 227.12,471.87 227.76,471.62 228.40,471.36 229.03,471.98 229.67,472.19 230.30,472.16 230.94,471.85 231.58,471.85 232.21,472.35 232.85,473.10 233.48,466.95 234.12,472.26 234.76,472.47 235.39,472.31 236.03,472.38 236.66,473.37 237.30,471.73 237.94,512.53 238.57,454.26 239.21,459.60 239.84,464.27 240.48,466.28 241.12,466.98 241.75,470.02 242.39,469.75 243.02,470.28 243.66,472.42 244.30,471.96 244.93,474.44 245.57,474.94 246.20,476.43 246.84,476.28 247.47,477.48 248.11,476.46 248.75,477.47 249.38,477.08 250.02,477.06 250.65,478.75 251.29,479.10 251.93,477.54 252.56,479.02 253.20,478.47 253.83,479.04 254.47,478.86 255.11,479.29 255.74,479.02 256.38,479.73 257.01,479.17 257.65,480.21 258.29,479.50 258.92,480.88 259.56,480.63 260.19,481.08 260.83,480.61 261.47,481.24 262.10,480.54 262.74,480.53 263.37,480.98 264.01,480.60 264.65,480.17 265.28,480.12 265.92,479.69 266.55,479.29 267.19,479.34 267.82,478.65 268.46,479.39 269.10,478.10 269.73,479.25 270.37,477.82 271.00,478.08 271.64,477.55 272.28,477.50 272.91,477.24 273.55,478.71 274.18,478.52 274.82,478.16 275.46,477.01 276.09,476.26 276.73,477.98 277.36,478.19 278.00,478.20 278.64,477.70" stroke="#9acd32" stroke-width="0.85"/>
</g>
<rect x="171.5" y="442.5" width="114.0" height="73.0" fill="none" stroke="#a0a0a0" stroke-width="1"/>
<line x1="176.25" y1="515.5" x2="176.25" y2="516.9" stroke="#a0a0a0" stroke-width="0.5"/>
<text x="176.25" y="520.80" font-size="3.3" text-anchor="middle">0</text>
<line x1="188.97" y1="515.5" x2="188.97" y2="516.9" stroke="#a0a0a0" stroke-width="0.5"/>
<text x="188.97" y="520.80" font-size="3.3" text-anchor="middle">20</text>
<line x1="201.69" y1="515.5" x2="201.69" y2="516.9" stroke="#a0a0a0" stroke-width="0.5"/>
<text x="201.69" y="520.80" font-size="3.3" text-anchor="middle">40</text>
<line x1="214.41" y1="515.5" x2="214.41" y2="516.9" stroke="#a0a0a0" stroke-width="0.5"/>
<text x="214.41" y="520.80" font-size="3.3" text-anchor="middle">60</text>
<line x1="227.12" y1="515.5" x2="227.12" y2="516.9" stroke="#a0a0a0" stroke-width="0.5"/>
<text x="227.12" y="520.80" font-size="3.3" text-anchor="middle">80</text>
<line x1="239.84" y1="515.5" x2="239.84" y2="516.9" stroke="#a0a0a0" stroke-width="0.5"/>
<text x="239.84" y="520.80" font-size="3.3" text-anchor="middle">100</text>
<line x1="252.56" y1="515.5" x2="252.56" y2="516.9" stroke="#a0a0a0" stroke-width="0.5"/>
<text x="252.56" y="520.80" font-size="3.3" text-anchor="middle">120</text>
<line x1="265.28" y1="515.5" x2="265.28" y2="516.9" stroke="#a0a0a0" stroke-width="0.5"/>
<text x="265.28" y="520.80" font-size="3.3" text-anchor="middle">140</text>
<line x1="278.00" y1="515.5" x2="278.00" y2="516.9" stroke="#a0a0a0" stroke-width="0.5"/>
<text x="278.00" y="520.80" font-size="3.3" text-anchor="middle">160</text>
<line x1="170.1" y1="512.00" x2="171.5" y2="512.00" stroke="#a0a0a0" stroke-width="0.5"/>
<text x="169.50" y="513.65" font-size="3.3" text-anchor="end">0.0</text>
<line x1="170.1" y1="498.75" x2="171.5" y2="498.75" stroke="#a0a0a0" stroke-width="0.5"/>
<text x="169.50" y="500.40" font-size="3.3" text-anchor="end">0.1</text>
<line x1="170.1" y1="485.50" x2="171.5" y2="485.50" stroke="#a0a0a0" stroke-width="0.5"/>
<text x="169.50" y="487.15" font-size="3.3" text-anchor="end">0.2</text>
<line x1="170.1" y1="472.25" x2="171.5" y2="472.25" stroke="#a0a0a0" stroke-width="0.5"/>
<text x="169.50" y="473.90" font-size="3.3" text-anchor="end">0.3</text>
<line x1="170.1" y1="459.00" x2="171.5" y2="459.00" stroke="#a0a0a0" stroke-width="0.5"/>
<text x="169.50" y="460.65" font-size="3.3" text-anchor="end">0.4</text>
<line x1="170.1" y1="445.75" x2="171.5" y2="445.75" stroke="#a0a0a0" stroke-width="0.5"/>
<text x="169.50" y="447.40" font-size="3.3" text-anchor="end">0.5</text>
<rect x="222.02" y="523.20" width="12.27" height="3.20" fill="#fff" stroke="none"/>
<text x="228.15" y="525.70" font-size="3.2" text-anchor="middle">Epochs</text>
<rect x="158.50" y="475.26" width="3.20" height="7.88" fill="#fff" stroke="none"/>
<text x="161.00" y="479.20" font-size="3.2" text-anchor="middle" transform="rotate(-90 161.00 479.20)">Loss</text>
<rect x="173.30" y="502.90" width="28.00" height="10.50" rx="0.6" fill="#fff" fill-opacity="0.45" stroke="#e9e9e9" stroke-width="0.5"/>
<line x1="174.5" y1="505.5" x2="181.5" y2="505.5" stroke="#1c1cdc" stroke-width="0.8"/>
<text x="184.0" y="506.69" font-size="3.3">Train</text>
<line x1="174.5" y1="510.8" x2="181.5" y2="510.8" stroke="#9acd32" stroke-width="0.8"/>
<text x="184.0" y="511.99" font-size="3.3">Validation</text>
<path d="M300.5 532.5V435.5" fill="none" stroke="#e3e3e3" stroke-width="1"/>
<path d="M300.5 435.5H429.5" fill="none" stroke="#e3e3e3" stroke-width="1"/>
<path d="M429.5 435.5V532.5H300.5" fill="none" stroke="#e3e3e3" stroke-width="1"/>
<path d="M430.5 436.5V533.5H301.5" fill="none" stroke="#f3f3f3" stroke-width="1"/>
<rect x="308.5" y="443.5" width="114.0" height="81.0" fill="none" stroke="#dcdcdc" stroke-width="0.8"/>
<clipPath id="c15"><rect x="318.25" y="446.75" width="105.75" height="68.45000000000005"/></clipPath>
<rect x="318.25" y="446.75" width="105.75" height="68.45000000000005" fill="#fff" stroke="none"/>
<g clip-path="url(#c15)" fill="none" stroke-linejoin="round">
<polyline points="322.50,512.40 322.69,497.11 323.46,479.33 324.53,469.97 325.39,463.73 326.75,459.36 328.29,458.11 330.70,455.93 335.43,454.37 340.26,450.31 346.62,450.00 419.00,450.00" stroke="#f3b23a" stroke-width="1.05"/>
<polyline points="322.50,512.40 419.00,450.00" stroke="#4040a6" stroke-width="0.7" stroke-dasharray="1.7,0.66"/>
</g>
<rect x="318.5" y="446.5" width="106.0" height="69.0" fill="none" stroke="#a0a0a0" stroke-width="1"/>
<line x1="322.50" y1="515.5" x2="322.50" y2="516.9" stroke="#a0a0a0" stroke-width="0.5"/>
<text x="322.50" y="520.80" font-size="3.3" text-anchor="middle">0.0</text>
<line x1="341.80" y1="515.5" x2="341.80" y2="516.9" stroke="#a0a0a0" stroke-width="0.5"/>
<text x="341.80" y="520.80" font-size="3.3" text-anchor="middle">0.2</text>
<line x1="361.10" y1="515.5" x2="361.10" y2="516.9" stroke="#a0a0a0" stroke-width="0.5"/>
<text x="361.10" y="520.80" font-size="3.3" text-anchor="middle">0.4</text>
<line x1="380.40" y1="515.5" x2="380.40" y2="516.9" stroke="#a0a0a0" stroke-width="0.5"/>
<text x="380.40" y="520.80" font-size="3.3" text-anchor="middle">0.6</text>
<line x1="399.70" y1="515.5" x2="399.70" y2="516.9" stroke="#a0a0a0" stroke-width="0.5"/>
<text x="399.70" y="520.80" font-size="3.3" text-anchor="middle">0.8</text>
<line x1="419.00" y1="515.5" x2="419.00" y2="516.9" stroke="#a0a0a0" stroke-width="0.5"/>
<text x="419.00" y="520.80" font-size="3.3" text-anchor="middle">1.0</text>
<line x1="317.1" y1="512.40" x2="318.5" y2="512.40" stroke="#a0a0a0" stroke-width="0.5"/>
<text x="316.50" y="514.05" font-size="3.3" text-anchor="end">0.0</text>
<line x1="317.1" y1="499.92" x2="318.5" y2="499.92" stroke="#a0a0a0" stroke-width="0.5"/>
<text x="316.50" y="501.57" font-size="3.3" text-anchor="end">0.2</text>
<line x1="317.1" y1="487.44" x2="318.5" y2="487.44" stroke="#a0a0a0" stroke-width="0.5"/>
<text x="316.50" y="489.09" font-size="3.3" text-anchor="end">0.4</text>
<line x1="317.1" y1="474.96" x2="318.5" y2="474.96" stroke="#a0a0a0" stroke-width="0.5"/>
<text x="316.50" y="476.61" font-size="3.3" text-anchor="end">0.6</text>
<line x1="317.1" y1="462.48" x2="318.5" y2="462.48" stroke="#a0a0a0" stroke-width="0.5"/>
<text x="316.50" y="464.13" font-size="3.3" text-anchor="end">0.8</text>
<line x1="317.1" y1="450.00" x2="318.5" y2="450.00" stroke="#a0a0a0" stroke-width="0.5"/>
<text x="316.50" y="451.65" font-size="3.3" text-anchor="end">1.0</text>
<rect x="356.92" y="523.38" width="28.40" height="2.97" fill="#fff" stroke="none"/>
<text x="371.12" y="525.70" font-size="2.97" text-anchor="middle">False Positive Rate</text>
<rect x="305.68" y="467.95" width="2.97" height="27.26" fill="#fff" stroke="none"/>
<text x="308.00" y="481.58" font-size="2.97" text-anchor="middle" transform="rotate(-90 308.00 481.58)">True Positive Rate</text>
<rect x="325.28" y="441.60" width="91.70" height="3.0" fill="#fff" stroke="none"/>
<text x="371.12" y="444.80" font-size="3.84" text-anchor="middle">Receiver Operating Characteristic (ROC) Curve</text>
<rect x="403.55" y="508.15" width="18.63" height="5.20" rx="0.6" fill="#fff" fill-opacity="0.45" stroke="#e9e9e9" stroke-width="0.5"/>
<line x1="404.75" y1="510.75" x2="411.75" y2="510.75" stroke="#f3b23a" stroke-width="0.8"/>
<text x="414.25" y="511.94" font-size="3.3">ROC</text>
</g>
<text x="149.85" y="103.6" font-size="6.53" font-family="Liberation Sans, Arial, sans-serif" fill="#1a1a1a" stroke="#1a1a1a" stroke-width="0.15">Xception - Accuracy, Loss and AUC-ROC curve</text>
<text x="149.05" y="209.6" font-size="6.49" font-family="Liberation Sans, Arial, sans-serif" fill="#1a1a1a" stroke="#1a1a1a" stroke-width="0.15">MobileNet - Accuracy, Loss and AUC-ROC curve</text>
<text x="150.5" y="317.4" font-size="6.5" font-family="Liberation Sans, Arial, sans-serif" fill="#1a1a1a" stroke="#1a1a1a" stroke-width="0.15">ResNetV2 - Accuracy, Loss and AUC-ROC curve</text>
<text x="146.65" y="431.5" font-size="6.94" font-family="Liberation Sans, Arial, sans-serif" fill="#1a1a1a" stroke="#1a1a1a" stroke-width="0.15">ResNet50 - Accuracy, Loss and AUC-ROC curve</text>
<text x="145.7" y="544.9" font-size="6.95" font-family="Liberation Sans, Arial, sans-serif" fill="#1a1a1a" stroke="#1a1a1a" stroke-width="0.15">DenseNet121 - Accuracy, Loss and AUC-ROC curve</text>
</svg></body></html>
